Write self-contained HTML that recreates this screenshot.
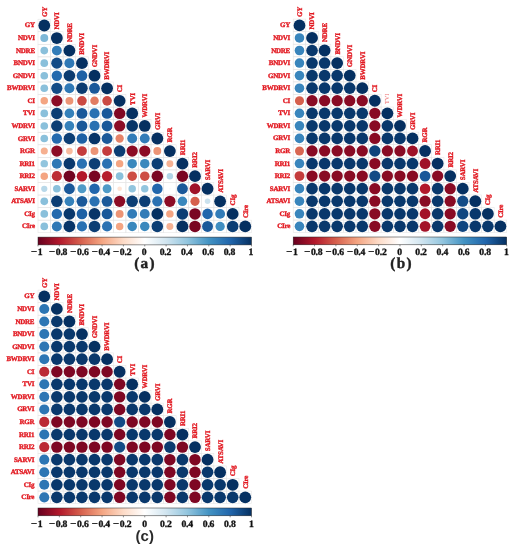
<!DOCTYPE html><html><head><meta charset="utf-8"><title>corr</title><style>html,body{margin:0;padding:0;background:#fff}svg{display:block}text{font-family:"Liberation Serif",serif;font-weight:bold;text-rendering:geometricPrecision}.r{stroke:#e21a22;stroke-width:0.36px}.k{stroke:#111;stroke-width:0.35px}.t{stroke:#222;stroke-width:0.4px}</style></head><body>
<svg width="517" height="550" viewBox="0 0 517 550">
<defs><linearGradient id="cb" x1="0" x2="1" y1="0" y2="0">
<stop offset="0%" stop-color="#67001F"/>
<stop offset="10%" stop-color="#B2182B"/>
<stop offset="20%" stop-color="#D6604D"/>
<stop offset="30%" stop-color="#F4A582"/>
<stop offset="40%" stop-color="#FDDBC7"/>
<stop offset="50%" stop-color="#FFFFFF"/>
<stop offset="60%" stop-color="#D1E5F0"/>
<stop offset="70%" stop-color="#92C5DE"/>
<stop offset="80%" stop-color="#4393C3"/>
<stop offset="90%" stop-color="#2166AC"/>
<stop offset="100%" stop-color="#053061"/>
</linearGradient></defs>
<rect width="517" height="550" fill="#fff"/>
<g><rect x="38.00" y="19.20" width="12.56" height="12.56" fill="none" stroke="#e6e6e6" stroke-width="0.6"/><rect x="38.00" y="31.76" width="12.56" height="12.56" fill="none" stroke="#e6e6e6" stroke-width="0.6"/><rect x="50.56" y="31.76" width="12.56" height="12.56" fill="none" stroke="#e6e6e6" stroke-width="0.6"/><rect x="38.00" y="44.32" width="12.56" height="12.56" fill="none" stroke="#e6e6e6" stroke-width="0.6"/><rect x="50.56" y="44.32" width="12.56" height="12.56" fill="none" stroke="#e6e6e6" stroke-width="0.6"/><rect x="63.12" y="44.32" width="12.56" height="12.56" fill="none" stroke="#e6e6e6" stroke-width="0.6"/><rect x="38.00" y="56.88" width="12.56" height="12.56" fill="none" stroke="#e6e6e6" stroke-width="0.6"/><rect x="50.56" y="56.88" width="12.56" height="12.56" fill="none" stroke="#e6e6e6" stroke-width="0.6"/><rect x="63.12" y="56.88" width="12.56" height="12.56" fill="none" stroke="#e6e6e6" stroke-width="0.6"/><rect x="75.68" y="56.88" width="12.56" height="12.56" fill="none" stroke="#e6e6e6" stroke-width="0.6"/><rect x="38.00" y="69.44" width="12.56" height="12.56" fill="none" stroke="#e6e6e6" stroke-width="0.6"/><rect x="50.56" y="69.44" width="12.56" height="12.56" fill="none" stroke="#e6e6e6" stroke-width="0.6"/><rect x="63.12" y="69.44" width="12.56" height="12.56" fill="none" stroke="#e6e6e6" stroke-width="0.6"/><rect x="75.68" y="69.44" width="12.56" height="12.56" fill="none" stroke="#e6e6e6" stroke-width="0.6"/><rect x="88.24" y="69.44" width="12.56" height="12.56" fill="none" stroke="#e6e6e6" stroke-width="0.6"/><rect x="38.00" y="82.00" width="12.56" height="12.56" fill="none" stroke="#e6e6e6" stroke-width="0.6"/><rect x="50.56" y="82.00" width="12.56" height="12.56" fill="none" stroke="#e6e6e6" stroke-width="0.6"/><rect x="63.12" y="82.00" width="12.56" height="12.56" fill="none" stroke="#e6e6e6" stroke-width="0.6"/><rect x="75.68" y="82.00" width="12.56" height="12.56" fill="none" stroke="#e6e6e6" stroke-width="0.6"/><rect x="88.24" y="82.00" width="12.56" height="12.56" fill="none" stroke="#e6e6e6" stroke-width="0.6"/><rect x="100.80" y="82.00" width="12.56" height="12.56" fill="none" stroke="#e6e6e6" stroke-width="0.6"/><rect x="38.00" y="94.56" width="12.56" height="12.56" fill="none" stroke="#e6e6e6" stroke-width="0.6"/><rect x="50.56" y="94.56" width="12.56" height="12.56" fill="none" stroke="#e6e6e6" stroke-width="0.6"/><rect x="63.12" y="94.56" width="12.56" height="12.56" fill="none" stroke="#e6e6e6" stroke-width="0.6"/><rect x="75.68" y="94.56" width="12.56" height="12.56" fill="none" stroke="#e6e6e6" stroke-width="0.6"/><rect x="88.24" y="94.56" width="12.56" height="12.56" fill="none" stroke="#e6e6e6" stroke-width="0.6"/><rect x="100.80" y="94.56" width="12.56" height="12.56" fill="none" stroke="#e6e6e6" stroke-width="0.6"/><rect x="113.36" y="94.56" width="12.56" height="12.56" fill="none" stroke="#e6e6e6" stroke-width="0.6"/><rect x="38.00" y="107.12" width="12.56" height="12.56" fill="none" stroke="#e6e6e6" stroke-width="0.6"/><rect x="50.56" y="107.12" width="12.56" height="12.56" fill="none" stroke="#e6e6e6" stroke-width="0.6"/><rect x="63.12" y="107.12" width="12.56" height="12.56" fill="none" stroke="#e6e6e6" stroke-width="0.6"/><rect x="75.68" y="107.12" width="12.56" height="12.56" fill="none" stroke="#e6e6e6" stroke-width="0.6"/><rect x="88.24" y="107.12" width="12.56" height="12.56" fill="none" stroke="#e6e6e6" stroke-width="0.6"/><rect x="100.80" y="107.12" width="12.56" height="12.56" fill="none" stroke="#e6e6e6" stroke-width="0.6"/><rect x="113.36" y="107.12" width="12.56" height="12.56" fill="none" stroke="#e6e6e6" stroke-width="0.6"/><rect x="125.92" y="107.12" width="12.56" height="12.56" fill="none" stroke="#e6e6e6" stroke-width="0.6"/><rect x="38.00" y="119.68" width="12.56" height="12.56" fill="none" stroke="#e6e6e6" stroke-width="0.6"/><rect x="50.56" y="119.68" width="12.56" height="12.56" fill="none" stroke="#e6e6e6" stroke-width="0.6"/><rect x="63.12" y="119.68" width="12.56" height="12.56" fill="none" stroke="#e6e6e6" stroke-width="0.6"/><rect x="75.68" y="119.68" width="12.56" height="12.56" fill="none" stroke="#e6e6e6" stroke-width="0.6"/><rect x="88.24" y="119.68" width="12.56" height="12.56" fill="none" stroke="#e6e6e6" stroke-width="0.6"/><rect x="100.80" y="119.68" width="12.56" height="12.56" fill="none" stroke="#e6e6e6" stroke-width="0.6"/><rect x="113.36" y="119.68" width="12.56" height="12.56" fill="none" stroke="#e6e6e6" stroke-width="0.6"/><rect x="125.92" y="119.68" width="12.56" height="12.56" fill="none" stroke="#e6e6e6" stroke-width="0.6"/><rect x="138.48" y="119.68" width="12.56" height="12.56" fill="none" stroke="#e6e6e6" stroke-width="0.6"/><rect x="38.00" y="132.24" width="12.56" height="12.56" fill="none" stroke="#e6e6e6" stroke-width="0.6"/><rect x="50.56" y="132.24" width="12.56" height="12.56" fill="none" stroke="#e6e6e6" stroke-width="0.6"/><rect x="63.12" y="132.24" width="12.56" height="12.56" fill="none" stroke="#e6e6e6" stroke-width="0.6"/><rect x="75.68" y="132.24" width="12.56" height="12.56" fill="none" stroke="#e6e6e6" stroke-width="0.6"/><rect x="88.24" y="132.24" width="12.56" height="12.56" fill="none" stroke="#e6e6e6" stroke-width="0.6"/><rect x="100.80" y="132.24" width="12.56" height="12.56" fill="none" stroke="#e6e6e6" stroke-width="0.6"/><rect x="113.36" y="132.24" width="12.56" height="12.56" fill="none" stroke="#e6e6e6" stroke-width="0.6"/><rect x="125.92" y="132.24" width="12.56" height="12.56" fill="none" stroke="#e6e6e6" stroke-width="0.6"/><rect x="138.48" y="132.24" width="12.56" height="12.56" fill="none" stroke="#e6e6e6" stroke-width="0.6"/><rect x="151.04" y="132.24" width="12.56" height="12.56" fill="none" stroke="#e6e6e6" stroke-width="0.6"/><rect x="38.00" y="144.80" width="12.56" height="12.56" fill="none" stroke="#e6e6e6" stroke-width="0.6"/><rect x="50.56" y="144.80" width="12.56" height="12.56" fill="none" stroke="#e6e6e6" stroke-width="0.6"/><rect x="63.12" y="144.80" width="12.56" height="12.56" fill="none" stroke="#e6e6e6" stroke-width="0.6"/><rect x="75.68" y="144.80" width="12.56" height="12.56" fill="none" stroke="#e6e6e6" stroke-width="0.6"/><rect x="88.24" y="144.80" width="12.56" height="12.56" fill="none" stroke="#e6e6e6" stroke-width="0.6"/><rect x="100.80" y="144.80" width="12.56" height="12.56" fill="none" stroke="#e6e6e6" stroke-width="0.6"/><rect x="113.36" y="144.80" width="12.56" height="12.56" fill="none" stroke="#e6e6e6" stroke-width="0.6"/><rect x="125.92" y="144.80" width="12.56" height="12.56" fill="none" stroke="#e6e6e6" stroke-width="0.6"/><rect x="138.48" y="144.80" width="12.56" height="12.56" fill="none" stroke="#e6e6e6" stroke-width="0.6"/><rect x="151.04" y="144.80" width="12.56" height="12.56" fill="none" stroke="#e6e6e6" stroke-width="0.6"/><rect x="163.60" y="144.80" width="12.56" height="12.56" fill="none" stroke="#e6e6e6" stroke-width="0.6"/><rect x="38.00" y="157.36" width="12.56" height="12.56" fill="none" stroke="#e6e6e6" stroke-width="0.6"/><rect x="50.56" y="157.36" width="12.56" height="12.56" fill="none" stroke="#e6e6e6" stroke-width="0.6"/><rect x="63.12" y="157.36" width="12.56" height="12.56" fill="none" stroke="#e6e6e6" stroke-width="0.6"/><rect x="75.68" y="157.36" width="12.56" height="12.56" fill="none" stroke="#e6e6e6" stroke-width="0.6"/><rect x="88.24" y="157.36" width="12.56" height="12.56" fill="none" stroke="#e6e6e6" stroke-width="0.6"/><rect x="100.80" y="157.36" width="12.56" height="12.56" fill="none" stroke="#e6e6e6" stroke-width="0.6"/><rect x="113.36" y="157.36" width="12.56" height="12.56" fill="none" stroke="#e6e6e6" stroke-width="0.6"/><rect x="125.92" y="157.36" width="12.56" height="12.56" fill="none" stroke="#e6e6e6" stroke-width="0.6"/><rect x="138.48" y="157.36" width="12.56" height="12.56" fill="none" stroke="#e6e6e6" stroke-width="0.6"/><rect x="151.04" y="157.36" width="12.56" height="12.56" fill="none" stroke="#e6e6e6" stroke-width="0.6"/><rect x="163.60" y="157.36" width="12.56" height="12.56" fill="none" stroke="#e6e6e6" stroke-width="0.6"/><rect x="176.16" y="157.36" width="12.56" height="12.56" fill="none" stroke="#e6e6e6" stroke-width="0.6"/><rect x="38.00" y="169.92" width="12.56" height="12.56" fill="none" stroke="#e6e6e6" stroke-width="0.6"/><rect x="50.56" y="169.92" width="12.56" height="12.56" fill="none" stroke="#e6e6e6" stroke-width="0.6"/><rect x="63.12" y="169.92" width="12.56" height="12.56" fill="none" stroke="#e6e6e6" stroke-width="0.6"/><rect x="75.68" y="169.92" width="12.56" height="12.56" fill="none" stroke="#e6e6e6" stroke-width="0.6"/><rect x="88.24" y="169.92" width="12.56" height="12.56" fill="none" stroke="#e6e6e6" stroke-width="0.6"/><rect x="100.80" y="169.92" width="12.56" height="12.56" fill="none" stroke="#e6e6e6" stroke-width="0.6"/><rect x="113.36" y="169.92" width="12.56" height="12.56" fill="none" stroke="#e6e6e6" stroke-width="0.6"/><rect x="125.92" y="169.92" width="12.56" height="12.56" fill="none" stroke="#e6e6e6" stroke-width="0.6"/><rect x="138.48" y="169.92" width="12.56" height="12.56" fill="none" stroke="#e6e6e6" stroke-width="0.6"/><rect x="151.04" y="169.92" width="12.56" height="12.56" fill="none" stroke="#e6e6e6" stroke-width="0.6"/><rect x="163.60" y="169.92" width="12.56" height="12.56" fill="none" stroke="#e6e6e6" stroke-width="0.6"/><rect x="176.16" y="169.92" width="12.56" height="12.56" fill="none" stroke="#e6e6e6" stroke-width="0.6"/><rect x="188.72" y="169.92" width="12.56" height="12.56" fill="none" stroke="#e6e6e6" stroke-width="0.6"/><rect x="38.00" y="182.48" width="12.56" height="12.56" fill="none" stroke="#e6e6e6" stroke-width="0.6"/><rect x="50.56" y="182.48" width="12.56" height="12.56" fill="none" stroke="#e6e6e6" stroke-width="0.6"/><rect x="63.12" y="182.48" width="12.56" height="12.56" fill="none" stroke="#e6e6e6" stroke-width="0.6"/><rect x="75.68" y="182.48" width="12.56" height="12.56" fill="none" stroke="#e6e6e6" stroke-width="0.6"/><rect x="88.24" y="182.48" width="12.56" height="12.56" fill="none" stroke="#e6e6e6" stroke-width="0.6"/><rect x="100.80" y="182.48" width="12.56" height="12.56" fill="none" stroke="#e6e6e6" stroke-width="0.6"/><rect x="113.36" y="182.48" width="12.56" height="12.56" fill="none" stroke="#e6e6e6" stroke-width="0.6"/><rect x="125.92" y="182.48" width="12.56" height="12.56" fill="none" stroke="#e6e6e6" stroke-width="0.6"/><rect x="138.48" y="182.48" width="12.56" height="12.56" fill="none" stroke="#e6e6e6" stroke-width="0.6"/><rect x="151.04" y="182.48" width="12.56" height="12.56" fill="none" stroke="#e6e6e6" stroke-width="0.6"/><rect x="163.60" y="182.48" width="12.56" height="12.56" fill="none" stroke="#e6e6e6" stroke-width="0.6"/><rect x="176.16" y="182.48" width="12.56" height="12.56" fill="none" stroke="#e6e6e6" stroke-width="0.6"/><rect x="188.72" y="182.48" width="12.56" height="12.56" fill="none" stroke="#e6e6e6" stroke-width="0.6"/><rect x="201.28" y="182.48" width="12.56" height="12.56" fill="none" stroke="#e6e6e6" stroke-width="0.6"/><rect x="38.00" y="195.04" width="12.56" height="12.56" fill="none" stroke="#e6e6e6" stroke-width="0.6"/><rect x="50.56" y="195.04" width="12.56" height="12.56" fill="none" stroke="#e6e6e6" stroke-width="0.6"/><rect x="63.12" y="195.04" width="12.56" height="12.56" fill="none" stroke="#e6e6e6" stroke-width="0.6"/><rect x="75.68" y="195.04" width="12.56" height="12.56" fill="none" stroke="#e6e6e6" stroke-width="0.6"/><rect x="88.24" y="195.04" width="12.56" height="12.56" fill="none" stroke="#e6e6e6" stroke-width="0.6"/><rect x="100.80" y="195.04" width="12.56" height="12.56" fill="none" stroke="#e6e6e6" stroke-width="0.6"/><rect x="113.36" y="195.04" width="12.56" height="12.56" fill="none" stroke="#e6e6e6" stroke-width="0.6"/><rect x="125.92" y="195.04" width="12.56" height="12.56" fill="none" stroke="#e6e6e6" stroke-width="0.6"/><rect x="138.48" y="195.04" width="12.56" height="12.56" fill="none" stroke="#e6e6e6" stroke-width="0.6"/><rect x="151.04" y="195.04" width="12.56" height="12.56" fill="none" stroke="#e6e6e6" stroke-width="0.6"/><rect x="163.60" y="195.04" width="12.56" height="12.56" fill="none" stroke="#e6e6e6" stroke-width="0.6"/><rect x="176.16" y="195.04" width="12.56" height="12.56" fill="none" stroke="#e6e6e6" stroke-width="0.6"/><rect x="188.72" y="195.04" width="12.56" height="12.56" fill="none" stroke="#e6e6e6" stroke-width="0.6"/><rect x="201.28" y="195.04" width="12.56" height="12.56" fill="none" stroke="#e6e6e6" stroke-width="0.6"/><rect x="213.84" y="195.04" width="12.56" height="12.56" fill="none" stroke="#e6e6e6" stroke-width="0.6"/><rect x="38.00" y="207.60" width="12.56" height="12.56" fill="none" stroke="#e6e6e6" stroke-width="0.6"/><rect x="50.56" y="207.60" width="12.56" height="12.56" fill="none" stroke="#e6e6e6" stroke-width="0.6"/><rect x="63.12" y="207.60" width="12.56" height="12.56" fill="none" stroke="#e6e6e6" stroke-width="0.6"/><rect x="75.68" y="207.60" width="12.56" height="12.56" fill="none" stroke="#e6e6e6" stroke-width="0.6"/><rect x="88.24" y="207.60" width="12.56" height="12.56" fill="none" stroke="#e6e6e6" stroke-width="0.6"/><rect x="100.80" y="207.60" width="12.56" height="12.56" fill="none" stroke="#e6e6e6" stroke-width="0.6"/><rect x="113.36" y="207.60" width="12.56" height="12.56" fill="none" stroke="#e6e6e6" stroke-width="0.6"/><rect x="125.92" y="207.60" width="12.56" height="12.56" fill="none" stroke="#e6e6e6" stroke-width="0.6"/><rect x="138.48" y="207.60" width="12.56" height="12.56" fill="none" stroke="#e6e6e6" stroke-width="0.6"/><rect x="151.04" y="207.60" width="12.56" height="12.56" fill="none" stroke="#e6e6e6" stroke-width="0.6"/><rect x="163.60" y="207.60" width="12.56" height="12.56" fill="none" stroke="#e6e6e6" stroke-width="0.6"/><rect x="176.16" y="207.60" width="12.56" height="12.56" fill="none" stroke="#e6e6e6" stroke-width="0.6"/><rect x="188.72" y="207.60" width="12.56" height="12.56" fill="none" stroke="#e6e6e6" stroke-width="0.6"/><rect x="201.28" y="207.60" width="12.56" height="12.56" fill="none" stroke="#e6e6e6" stroke-width="0.6"/><rect x="213.84" y="207.60" width="12.56" height="12.56" fill="none" stroke="#e6e6e6" stroke-width="0.6"/><rect x="226.40" y="207.60" width="12.56" height="12.56" fill="none" stroke="#e6e6e6" stroke-width="0.6"/><rect x="38.00" y="220.16" width="12.56" height="12.56" fill="none" stroke="#e6e6e6" stroke-width="0.6"/><rect x="50.56" y="220.16" width="12.56" height="12.56" fill="none" stroke="#e6e6e6" stroke-width="0.6"/><rect x="63.12" y="220.16" width="12.56" height="12.56" fill="none" stroke="#e6e6e6" stroke-width="0.6"/><rect x="75.68" y="220.16" width="12.56" height="12.56" fill="none" stroke="#e6e6e6" stroke-width="0.6"/><rect x="88.24" y="220.16" width="12.56" height="12.56" fill="none" stroke="#e6e6e6" stroke-width="0.6"/><rect x="100.80" y="220.16" width="12.56" height="12.56" fill="none" stroke="#e6e6e6" stroke-width="0.6"/><rect x="113.36" y="220.16" width="12.56" height="12.56" fill="none" stroke="#e6e6e6" stroke-width="0.6"/><rect x="125.92" y="220.16" width="12.56" height="12.56" fill="none" stroke="#e6e6e6" stroke-width="0.6"/><rect x="138.48" y="220.16" width="12.56" height="12.56" fill="none" stroke="#e6e6e6" stroke-width="0.6"/><rect x="151.04" y="220.16" width="12.56" height="12.56" fill="none" stroke="#e6e6e6" stroke-width="0.6"/><rect x="163.60" y="220.16" width="12.56" height="12.56" fill="none" stroke="#e6e6e6" stroke-width="0.6"/><rect x="176.16" y="220.16" width="12.56" height="12.56" fill="none" stroke="#e6e6e6" stroke-width="0.6"/><rect x="188.72" y="220.16" width="12.56" height="12.56" fill="none" stroke="#e6e6e6" stroke-width="0.6"/><rect x="201.28" y="220.16" width="12.56" height="12.56" fill="none" stroke="#e6e6e6" stroke-width="0.6"/><rect x="213.84" y="220.16" width="12.56" height="12.56" fill="none" stroke="#e6e6e6" stroke-width="0.6"/><rect x="226.40" y="220.16" width="12.56" height="12.56" fill="none" stroke="#e6e6e6" stroke-width="0.6"/><rect x="238.96" y="220.16" width="12.56" height="12.56" fill="none" stroke="#e6e6e6" stroke-width="0.6"/><circle cx="44.28" cy="25.48" r="5.90" fill="#053061"/><circle cx="44.28" cy="38.04" r="3.96" fill="#7eb8d7"/><circle cx="56.84" cy="38.04" r="5.90" fill="#053061"/><circle cx="44.28" cy="50.60" r="3.83" fill="#8ac0db"/><circle cx="56.84" cy="50.60" r="4.94" fill="#327cb8"/><circle cx="69.40" cy="50.60" r="5.90" fill="#053061"/><circle cx="44.28" cy="63.16" r="3.83" fill="#8ac0db"/><circle cx="56.84" cy="63.16" r="5.60" fill="#134b86"/><circle cx="69.40" cy="63.16" r="5.01" fill="#2f78b5"/><circle cx="81.96" cy="63.16" r="5.90" fill="#053061"/><circle cx="44.28" cy="75.72" r="3.83" fill="#8ac0db"/><circle cx="56.84" cy="75.72" r="5.21" fill="#246aae"/><circle cx="69.40" cy="75.72" r="5.78" fill="#0b3b70"/><circle cx="81.96" cy="75.72" r="5.35" fill="#1e61a5"/><circle cx="94.52" cy="75.72" r="5.90" fill="#053061"/><circle cx="44.28" cy="88.28" r="3.83" fill="#8ac0db"/><circle cx="56.84" cy="88.28" r="5.60" fill="#134b86"/><circle cx="69.40" cy="88.28" r="5.01" fill="#2f78b5"/><circle cx="81.96" cy="88.28" r="5.78" fill="#0b3b70"/><circle cx="94.52" cy="88.28" r="5.44" fill="#1a5899"/><circle cx="107.08" cy="88.28" r="5.90" fill="#053061"/><circle cx="44.28" cy="100.84" r="3.73" fill="#f4a582"/><circle cx="56.84" cy="100.84" r="5.60" fill="#8c0c25"/><circle cx="69.40" cy="100.84" r="3.96" fill="#ec9475"/><circle cx="81.96" cy="100.84" r="4.80" fill="#cb4a43"/><circle cx="94.52" cy="100.84" r="4.26" fill="#e27c62"/><circle cx="107.08" cy="100.84" r="4.80" fill="#cb4a43"/><circle cx="119.64" cy="100.84" r="5.90" fill="#053061"/><circle cx="44.28" cy="113.40" r="3.83" fill="#8ac0db"/><circle cx="56.84" cy="113.40" r="5.75" fill="#0c3e74"/><circle cx="69.40" cy="113.40" r="4.87" fill="#3581ba"/><circle cx="81.96" cy="113.40" r="5.44" fill="#1a5899"/><circle cx="94.52" cy="113.40" r="5.11" fill="#2a71b2"/><circle cx="107.08" cy="113.40" r="5.44" fill="#1a5899"/><circle cx="119.64" cy="113.40" r="5.69" fill="#810823"/><circle cx="132.20" cy="113.40" r="5.90" fill="#053061"/><circle cx="44.28" cy="125.96" r="3.83" fill="#8ac0db"/><circle cx="56.84" cy="125.96" r="5.75" fill="#0c3e74"/><circle cx="69.40" cy="125.96" r="4.87" fill="#3581ba"/><circle cx="81.96" cy="125.96" r="5.44" fill="#1a5899"/><circle cx="94.52" cy="125.96" r="5.11" fill="#2a71b2"/><circle cx="107.08" cy="125.96" r="5.44" fill="#1a5899"/><circle cx="119.64" cy="125.96" r="5.60" fill="#8c0c25"/><circle cx="132.20" cy="125.96" r="5.84" fill="#083568"/><circle cx="144.76" cy="125.96" r="5.90" fill="#053061"/><circle cx="44.28" cy="138.52" r="3.83" fill="#8ac0db"/><circle cx="56.84" cy="138.52" r="5.21" fill="#246aae"/><circle cx="69.40" cy="138.52" r="5.75" fill="#0c3e74"/><circle cx="81.96" cy="138.52" r="5.35" fill="#1e61a5"/><circle cx="94.52" cy="138.52" r="5.84" fill="#083568"/><circle cx="107.08" cy="138.52" r="5.44" fill="#1a5899"/><circle cx="119.64" cy="138.52" r="4.17" fill="#e58268"/><circle cx="132.20" cy="138.52" r="4.94" fill="#327cb8"/><circle cx="144.76" cy="138.52" r="4.94" fill="#327cb8"/><circle cx="157.32" cy="138.52" r="5.90" fill="#053061"/><circle cx="44.28" cy="151.08" r="3.54" fill="#f6b090"/><circle cx="56.84" cy="151.08" r="5.60" fill="#8c0c25"/><circle cx="69.40" cy="151.08" r="3.34" fill="#f8bb9e"/><circle cx="81.96" cy="151.08" r="4.94" fill="#c43c3c"/><circle cx="94.52" cy="151.08" r="3.96" fill="#ec9475"/><circle cx="107.08" cy="151.08" r="4.94" fill="#c43c3c"/><circle cx="119.64" cy="151.08" r="5.75" fill="#0c3e74"/><circle cx="132.20" cy="151.08" r="5.60" fill="#8c0c25"/><circle cx="144.76" cy="151.08" r="5.60" fill="#8c0c25"/><circle cx="157.32" cy="151.08" r="3.96" fill="#ec9475"/><circle cx="169.88" cy="151.08" r="5.90" fill="#053061"/><circle cx="44.28" cy="163.64" r="3.73" fill="#92c5de"/><circle cx="56.84" cy="163.64" r="5.01" fill="#2f78b5"/><circle cx="69.40" cy="163.64" r="5.81" fill="#09386c"/><circle cx="81.96" cy="163.64" r="5.11" fill="#2a71b2"/><circle cx="94.52" cy="163.64" r="5.75" fill="#0c3e74"/><circle cx="107.08" cy="163.64" r="5.11" fill="#2a71b2"/><circle cx="119.64" cy="163.64" r="3.73" fill="#f4a582"/><circle cx="132.20" cy="163.64" r="4.76" fill="#3a88bd"/><circle cx="144.76" cy="163.64" r="4.76" fill="#3a88bd"/><circle cx="157.32" cy="163.64" r="5.75" fill="#0c3e74"/><circle cx="169.88" cy="163.64" r="3.49" fill="#f6b293"/><circle cx="182.44" cy="163.64" r="5.90" fill="#053061"/><circle cx="44.28" cy="176.20" r="3.73" fill="#f4a582"/><circle cx="56.84" cy="176.20" r="5.08" fill="#bd2e35"/><circle cx="69.40" cy="176.20" r="5.81" fill="#720421"/><circle cx="81.96" cy="176.20" r="5.28" fill="#b2182b"/><circle cx="94.52" cy="176.20" r="5.75" fill="#7a0622"/><circle cx="107.08" cy="176.20" r="5.21" fill="#b61f2e"/><circle cx="119.64" cy="176.20" r="3.83" fill="#8ac0db"/><circle cx="132.20" cy="176.20" r="4.76" fill="#cd4e44"/><circle cx="144.76" cy="176.20" r="4.76" fill="#cd4e44"/><circle cx="157.32" cy="176.20" r="5.75" fill="#7a0622"/><circle cx="169.88" cy="176.20" r="3.23" fill="#b2d5e7"/><circle cx="182.44" cy="176.20" r="5.75" fill="#7a0622"/><circle cx="195.00" cy="176.20" r="5.90" fill="#053061"/><circle cx="44.28" cy="188.76" r="3.12" fill="#b8d8e9"/><circle cx="56.84" cy="188.76" r="3.83" fill="#8ac0db"/><circle cx="69.40" cy="188.76" r="5.44" fill="#1a5899"/><circle cx="81.96" cy="188.76" r="4.46" fill="#4f9ac7"/><circle cx="94.52" cy="188.76" r="5.28" fill="#2166ac"/><circle cx="107.08" cy="188.76" r="4.46" fill="#4f9ac7"/><circle cx="119.64" cy="188.76" r="2.29" fill="#fee4d5"/><circle cx="132.20" cy="188.76" r="3.73" fill="#92c5de"/><circle cx="144.76" cy="188.76" r="3.73" fill="#92c5de"/><circle cx="157.32" cy="188.76" r="5.28" fill="#2166ac"/><circle cx="169.88" cy="188.76" r="1.02" fill="#f8fbfd"/><circle cx="182.44" cy="188.76" r="5.44" fill="#1a5899"/><circle cx="195.00" cy="188.76" r="5.44" fill="#9f1228"/><circle cx="207.56" cy="188.76" r="5.90" fill="#053061"/><circle cx="44.28" cy="201.32" r="3.83" fill="#8ac0db"/><circle cx="56.84" cy="201.32" r="5.75" fill="#0c3e74"/><circle cx="69.40" cy="201.32" r="4.87" fill="#3581ba"/><circle cx="81.96" cy="201.32" r="5.44" fill="#1a5899"/><circle cx="94.52" cy="201.32" r="5.11" fill="#2a71b2"/><circle cx="107.08" cy="201.32" r="5.44" fill="#1a5899"/><circle cx="119.64" cy="201.32" r="5.60" fill="#8c0c25"/><circle cx="132.20" cy="201.32" r="5.75" fill="#0c3e74"/><circle cx="144.76" cy="201.32" r="5.75" fill="#0c3e74"/><circle cx="157.32" cy="201.32" r="5.11" fill="#2a71b2"/><circle cx="169.88" cy="201.32" r="5.60" fill="#8c0c25"/><circle cx="182.44" cy="201.32" r="4.76" fill="#3a88bd"/><circle cx="195.00" cy="201.32" r="4.57" fill="#d6604d"/><circle cx="207.56" cy="201.32" r="2.77" fill="#cbe2ee"/><circle cx="220.12" cy="201.32" r="5.90" fill="#053061"/><circle cx="44.28" cy="213.88" r="3.83" fill="#8ac0db"/><circle cx="56.84" cy="213.88" r="5.21" fill="#246aae"/><circle cx="69.40" cy="213.88" r="5.81" fill="#09386c"/><circle cx="81.96" cy="213.88" r="5.35" fill="#1e61a5"/><circle cx="94.52" cy="213.88" r="5.84" fill="#083568"/><circle cx="107.08" cy="213.88" r="5.44" fill="#1a5899"/><circle cx="119.64" cy="213.88" r="3.96" fill="#ec9475"/><circle cx="132.20" cy="213.88" r="4.94" fill="#327cb8"/><circle cx="144.76" cy="213.88" r="4.94" fill="#327cb8"/><circle cx="157.32" cy="213.88" r="5.90" fill="#053061"/><circle cx="169.88" cy="213.88" r="3.73" fill="#f4a582"/><circle cx="182.44" cy="213.88" r="5.75" fill="#0c3e74"/><circle cx="195.00" cy="213.88" r="5.75" fill="#7a0622"/><circle cx="207.56" cy="213.88" r="5.28" fill="#2166ac"/><circle cx="220.12" cy="213.88" r="4.94" fill="#327cb8"/><circle cx="232.68" cy="213.88" r="5.90" fill="#053061"/><circle cx="44.28" cy="226.44" r="3.83" fill="#8ac0db"/><circle cx="56.84" cy="226.44" r="5.01" fill="#2f78b5"/><circle cx="69.40" cy="226.44" r="5.84" fill="#083568"/><circle cx="81.96" cy="226.44" r="5.11" fill="#2a71b2"/><circle cx="94.52" cy="226.44" r="5.75" fill="#0c3e74"/><circle cx="107.08" cy="226.44" r="5.11" fill="#2a71b2"/><circle cx="119.64" cy="226.44" r="3.73" fill="#f4a582"/><circle cx="132.20" cy="226.44" r="4.76" fill="#3a88bd"/><circle cx="144.76" cy="226.44" r="4.76" fill="#3a88bd"/><circle cx="157.32" cy="226.44" r="5.75" fill="#0c3e74"/><circle cx="169.88" cy="226.44" r="3.49" fill="#f6b293"/><circle cx="182.44" cy="226.44" r="5.90" fill="#053061"/><circle cx="195.00" cy="226.44" r="5.75" fill="#7a0622"/><circle cx="207.56" cy="226.44" r="5.44" fill="#1a5899"/><circle cx="220.12" cy="226.44" r="4.65" fill="#408ec1"/><circle cx="232.68" cy="226.44" r="5.75" fill="#0c3e74"/><circle cx="245.24" cy="226.44" r="5.90" fill="#053061"/><text class="r" transform="translate(34.80 27.48) scale(1.015 1)" font-size="6.9" text-anchor="end" fill="#e21a22" letter-spacing="-0.25">GY</text><text class="r" transform="translate(34.80 40.04) scale(1.015 1)" font-size="6.9" text-anchor="end" fill="#e21a22" letter-spacing="-0.25">NDVI</text><text class="r" transform="translate(34.80 52.60) scale(1.015 1)" font-size="6.9" text-anchor="end" fill="#e21a22" letter-spacing="-0.25">NDRE</text><text class="r" transform="translate(34.80 65.16) scale(1.015 1)" font-size="6.9" text-anchor="end" fill="#e21a22" letter-spacing="-0.25">BNDVI</text><text class="r" transform="translate(34.80 77.72) scale(1.015 1)" font-size="6.9" text-anchor="end" fill="#e21a22" letter-spacing="-0.25">GNDVI</text><text class="r" transform="translate(34.80 90.28) scale(1.015 1)" font-size="6.9" text-anchor="end" fill="#e21a22" letter-spacing="-0.25">BWDRVI</text><text class="r" transform="translate(34.80 102.84) scale(1.015 1)" font-size="6.9" text-anchor="end" fill="#e21a22" letter-spacing="-0.25">CI</text><text class="r" transform="translate(34.80 115.40) scale(1.015 1)" font-size="6.9" text-anchor="end" fill="#e21a22" letter-spacing="-0.25">TVI</text><text class="r" transform="translate(34.80 127.96) scale(1.015 1)" font-size="6.9" text-anchor="end" fill="#e21a22" letter-spacing="-0.25">WDRVI</text><text class="r" transform="translate(34.80 140.52) scale(1.015 1)" font-size="6.9" text-anchor="end" fill="#e21a22" letter-spacing="-0.25">GRVI</text><text class="r" transform="translate(34.80 153.08) scale(1.015 1)" font-size="6.9" text-anchor="end" fill="#e21a22" letter-spacing="-0.25">RGR</text><text class="r" transform="translate(34.80 165.64) scale(1.015 1)" font-size="6.9" text-anchor="end" fill="#e21a22" letter-spacing="-0.25">RRI1</text><text class="r" transform="translate(34.80 178.20) scale(1.015 1)" font-size="6.9" text-anchor="end" fill="#e21a22" letter-spacing="-0.25">RRI2</text><text class="r" transform="translate(34.80 190.76) scale(1.015 1)" font-size="6.9" text-anchor="end" fill="#e21a22" letter-spacing="-0.25">SARVI</text><text class="r" transform="translate(34.80 203.32) scale(1.015 1)" font-size="6.9" text-anchor="end" fill="#e21a22" letter-spacing="-0.25">ATSAVI</text><text class="r" transform="translate(34.80 215.88) scale(1.015 1)" font-size="6.9" text-anchor="end" fill="#e21a22" letter-spacing="-0.25">CIg</text><text class="r" transform="translate(34.80 228.44) scale(1.015 1)" font-size="6.9" text-anchor="end" fill="#e21a22" letter-spacing="-0.25">CIre</text><text class="r" transform="translate(46.68 17.00) rotate(-90) scale(1.02 1)" font-size="6.9" fill="#e21a22" letter-spacing="-0.25">GY</text><text class="r" transform="translate(59.24 29.56) rotate(-90) scale(1.02 1)" font-size="6.9" fill="#e21a22" letter-spacing="-0.25">NDVI</text><text class="r" transform="translate(71.80 42.12) rotate(-90) scale(1.02 1)" font-size="6.9" fill="#e21a22" letter-spacing="-0.25">NDRE</text><text class="r" transform="translate(84.36 54.68) rotate(-90) scale(1.02 1)" font-size="6.9" fill="#e21a22" letter-spacing="-0.25">BNDVI</text><text class="r" transform="translate(96.92 67.24) rotate(-90) scale(1.02 1)" font-size="6.9" fill="#e21a22" letter-spacing="-0.25">GNDVI</text><text class="r" transform="translate(109.48 79.80) rotate(-90) scale(1.02 1)" font-size="6.9" fill="#e21a22" letter-spacing="-0.25">BWDRVI</text><text class="r" transform="translate(122.04 92.36) rotate(-90) scale(1.02 1)" font-size="6.9" fill="#e21a22" letter-spacing="-0.25">CI</text><text class="r" transform="translate(134.60 104.92) rotate(-90) scale(1.02 1)" font-size="6.9" fill="#e21a22" letter-spacing="-0.25">TVI</text><text class="r" transform="translate(147.16 117.48) rotate(-90) scale(1.02 1)" font-size="6.9" fill="#e21a22" letter-spacing="-0.25">WDRVI</text><text class="r" transform="translate(159.72 130.04) rotate(-90) scale(1.02 1)" font-size="6.9" fill="#e21a22" letter-spacing="-0.25">GRVI</text><text class="r" transform="translate(172.28 142.60) rotate(-90) scale(1.02 1)" font-size="6.9" fill="#e21a22" letter-spacing="-0.25">RGR</text><text class="r" transform="translate(184.84 155.16) rotate(-90) scale(1.02 1)" font-size="6.9" fill="#e21a22" letter-spacing="-0.25">RRI1</text><text class="r" transform="translate(197.40 167.72) rotate(-90) scale(1.02 1)" font-size="6.9" fill="#e21a22" letter-spacing="-0.25">RRI2</text><text class="r" transform="translate(209.96 180.28) rotate(-90) scale(1.02 1)" font-size="6.9" fill="#e21a22" letter-spacing="-0.25">SARVI</text><text class="r" transform="translate(222.52 192.84) rotate(-90) scale(1.02 1)" font-size="6.9" fill="#e21a22" letter-spacing="-0.25">ATSAVI</text><text class="r" transform="translate(235.08 205.40) rotate(-90) scale(1.02 1)" font-size="6.9" fill="#e21a22" letter-spacing="-0.25">CIg</text><text class="r" transform="translate(247.64 217.96) rotate(-90) scale(1.02 1)" font-size="6.9" fill="#e21a22" letter-spacing="-0.25">CIre</text><rect x="38.00" y="237.10" width="213.52" height="7.8" fill="url(#cb)" stroke="#222" stroke-width="0.5"/><line x1="38.00" x2="38.00" y1="244.90" y2="246.40" stroke="#222" stroke-width="0.5"/><text class="k" x="36.80" y="255.00" font-size="9.7" letter-spacing="-0.2" text-anchor="middle" fill="#111"><tspan font-size="10.6">−</tspan><tspan dx="0.9">1</tspan></text><line x1="59.35" x2="59.35" y1="244.90" y2="246.40" stroke="#222" stroke-width="0.5"/><text class="k" x="58.15" y="255.00" font-size="9.7" letter-spacing="-0.2" text-anchor="middle" fill="#111"><tspan font-size="10.6">−</tspan><tspan dx="0.9">0.8</tspan></text><line x1="80.70" x2="80.70" y1="244.90" y2="246.40" stroke="#222" stroke-width="0.5"/><text class="k" x="79.50" y="255.00" font-size="9.7" letter-spacing="-0.2" text-anchor="middle" fill="#111"><tspan font-size="10.6">−</tspan><tspan dx="0.9">0.6</tspan></text><line x1="102.06" x2="102.06" y1="244.90" y2="246.40" stroke="#222" stroke-width="0.5"/><text class="k" x="100.86" y="255.00" font-size="9.7" letter-spacing="-0.2" text-anchor="middle" fill="#111"><tspan font-size="10.6">−</tspan><tspan dx="0.9">0.4</tspan></text><line x1="123.41" x2="123.41" y1="244.90" y2="246.40" stroke="#222" stroke-width="0.5"/><text class="k" x="122.21" y="255.00" font-size="9.7" letter-spacing="-0.2" text-anchor="middle" fill="#111"><tspan font-size="10.6">−</tspan><tspan dx="0.9">0.2</tspan></text><line x1="144.76" x2="144.76" y1="244.90" y2="246.40" stroke="#222" stroke-width="0.5"/><text class="k" x="144.06" y="255.00" font-size="9.7" letter-spacing="-0.2" text-anchor="middle" fill="#111">0</text><line x1="166.11" x2="166.11" y1="244.90" y2="246.40" stroke="#222" stroke-width="0.5"/><text class="k" x="165.41" y="255.00" font-size="9.7" letter-spacing="-0.2" text-anchor="middle" fill="#111">0.2</text><line x1="187.46" x2="187.46" y1="244.90" y2="246.40" stroke="#222" stroke-width="0.5"/><text class="k" x="186.76" y="255.00" font-size="9.7" letter-spacing="-0.2" text-anchor="middle" fill="#111">0.4</text><line x1="208.82" x2="208.82" y1="244.90" y2="246.40" stroke="#222" stroke-width="0.5"/><text class="k" x="208.12" y="255.00" font-size="9.7" letter-spacing="-0.2" text-anchor="middle" fill="#111">0.6</text><line x1="230.17" x2="230.17" y1="244.90" y2="246.40" stroke="#222" stroke-width="0.5"/><text class="k" x="229.47" y="255.00" font-size="9.7" letter-spacing="-0.2" text-anchor="middle" fill="#111">0.8</text><line x1="251.52" x2="251.52" y1="244.90" y2="246.40" stroke="#222" stroke-width="0.5"/><text class="k" x="250.82" y="255.00" font-size="9.7" letter-spacing="-0.2" text-anchor="middle" fill="#111">1</text><text class="t" x="145.06" y="268.30" font-size="15.2" text-anchor="middle" fill="#222" letter-spacing="1.3">(a)</text></g>
<g><rect x="293.20" y="19.10" width="12.56" height="12.56" fill="none" stroke="#e6e6e6" stroke-width="0.6"/><rect x="293.20" y="31.66" width="12.56" height="12.56" fill="none" stroke="#e6e6e6" stroke-width="0.6"/><rect x="305.76" y="31.66" width="12.56" height="12.56" fill="none" stroke="#e6e6e6" stroke-width="0.6"/><rect x="293.20" y="44.22" width="12.56" height="12.56" fill="none" stroke="#e6e6e6" stroke-width="0.6"/><rect x="305.76" y="44.22" width="12.56" height="12.56" fill="none" stroke="#e6e6e6" stroke-width="0.6"/><rect x="318.32" y="44.22" width="12.56" height="12.56" fill="none" stroke="#e6e6e6" stroke-width="0.6"/><rect x="293.20" y="56.78" width="12.56" height="12.56" fill="none" stroke="#e6e6e6" stroke-width="0.6"/><rect x="305.76" y="56.78" width="12.56" height="12.56" fill="none" stroke="#e6e6e6" stroke-width="0.6"/><rect x="318.32" y="56.78" width="12.56" height="12.56" fill="none" stroke="#e6e6e6" stroke-width="0.6"/><rect x="330.88" y="56.78" width="12.56" height="12.56" fill="none" stroke="#e6e6e6" stroke-width="0.6"/><rect x="293.20" y="69.34" width="12.56" height="12.56" fill="none" stroke="#e6e6e6" stroke-width="0.6"/><rect x="305.76" y="69.34" width="12.56" height="12.56" fill="none" stroke="#e6e6e6" stroke-width="0.6"/><rect x="318.32" y="69.34" width="12.56" height="12.56" fill="none" stroke="#e6e6e6" stroke-width="0.6"/><rect x="330.88" y="69.34" width="12.56" height="12.56" fill="none" stroke="#e6e6e6" stroke-width="0.6"/><rect x="343.44" y="69.34" width="12.56" height="12.56" fill="none" stroke="#e6e6e6" stroke-width="0.6"/><rect x="293.20" y="81.90" width="12.56" height="12.56" fill="none" stroke="#e6e6e6" stroke-width="0.6"/><rect x="305.76" y="81.90" width="12.56" height="12.56" fill="none" stroke="#e6e6e6" stroke-width="0.6"/><rect x="318.32" y="81.90" width="12.56" height="12.56" fill="none" stroke="#e6e6e6" stroke-width="0.6"/><rect x="330.88" y="81.90" width="12.56" height="12.56" fill="none" stroke="#e6e6e6" stroke-width="0.6"/><rect x="343.44" y="81.90" width="12.56" height="12.56" fill="none" stroke="#e6e6e6" stroke-width="0.6"/><rect x="356.00" y="81.90" width="12.56" height="12.56" fill="none" stroke="#e6e6e6" stroke-width="0.6"/><rect x="293.20" y="94.46" width="12.56" height="12.56" fill="none" stroke="#e6e6e6" stroke-width="0.6"/><rect x="305.76" y="94.46" width="12.56" height="12.56" fill="none" stroke="#e6e6e6" stroke-width="0.6"/><rect x="318.32" y="94.46" width="12.56" height="12.56" fill="none" stroke="#e6e6e6" stroke-width="0.6"/><rect x="330.88" y="94.46" width="12.56" height="12.56" fill="none" stroke="#e6e6e6" stroke-width="0.6"/><rect x="343.44" y="94.46" width="12.56" height="12.56" fill="none" stroke="#e6e6e6" stroke-width="0.6"/><rect x="356.00" y="94.46" width="12.56" height="12.56" fill="none" stroke="#e6e6e6" stroke-width="0.6"/><rect x="368.56" y="94.46" width="12.56" height="12.56" fill="none" stroke="#e6e6e6" stroke-width="0.6"/><rect x="293.20" y="107.02" width="12.56" height="12.56" fill="none" stroke="#e6e6e6" stroke-width="0.6"/><rect x="305.76" y="107.02" width="12.56" height="12.56" fill="none" stroke="#e6e6e6" stroke-width="0.6"/><rect x="318.32" y="107.02" width="12.56" height="12.56" fill="none" stroke="#e6e6e6" stroke-width="0.6"/><rect x="330.88" y="107.02" width="12.56" height="12.56" fill="none" stroke="#e6e6e6" stroke-width="0.6"/><rect x="343.44" y="107.02" width="12.56" height="12.56" fill="none" stroke="#e6e6e6" stroke-width="0.6"/><rect x="356.00" y="107.02" width="12.56" height="12.56" fill="none" stroke="#e6e6e6" stroke-width="0.6"/><rect x="368.56" y="107.02" width="12.56" height="12.56" fill="none" stroke="#e6e6e6" stroke-width="0.6"/><rect x="381.12" y="107.02" width="12.56" height="12.56" fill="none" stroke="#e6e6e6" stroke-width="0.6"/><rect x="293.20" y="119.58" width="12.56" height="12.56" fill="none" stroke="#e6e6e6" stroke-width="0.6"/><rect x="305.76" y="119.58" width="12.56" height="12.56" fill="none" stroke="#e6e6e6" stroke-width="0.6"/><rect x="318.32" y="119.58" width="12.56" height="12.56" fill="none" stroke="#e6e6e6" stroke-width="0.6"/><rect x="330.88" y="119.58" width="12.56" height="12.56" fill="none" stroke="#e6e6e6" stroke-width="0.6"/><rect x="343.44" y="119.58" width="12.56" height="12.56" fill="none" stroke="#e6e6e6" stroke-width="0.6"/><rect x="356.00" y="119.58" width="12.56" height="12.56" fill="none" stroke="#e6e6e6" stroke-width="0.6"/><rect x="368.56" y="119.58" width="12.56" height="12.56" fill="none" stroke="#e6e6e6" stroke-width="0.6"/><rect x="381.12" y="119.58" width="12.56" height="12.56" fill="none" stroke="#e6e6e6" stroke-width="0.6"/><rect x="393.68" y="119.58" width="12.56" height="12.56" fill="none" stroke="#e6e6e6" stroke-width="0.6"/><rect x="293.20" y="132.14" width="12.56" height="12.56" fill="none" stroke="#e6e6e6" stroke-width="0.6"/><rect x="305.76" y="132.14" width="12.56" height="12.56" fill="none" stroke="#e6e6e6" stroke-width="0.6"/><rect x="318.32" y="132.14" width="12.56" height="12.56" fill="none" stroke="#e6e6e6" stroke-width="0.6"/><rect x="330.88" y="132.14" width="12.56" height="12.56" fill="none" stroke="#e6e6e6" stroke-width="0.6"/><rect x="343.44" y="132.14" width="12.56" height="12.56" fill="none" stroke="#e6e6e6" stroke-width="0.6"/><rect x="356.00" y="132.14" width="12.56" height="12.56" fill="none" stroke="#e6e6e6" stroke-width="0.6"/><rect x="368.56" y="132.14" width="12.56" height="12.56" fill="none" stroke="#e6e6e6" stroke-width="0.6"/><rect x="381.12" y="132.14" width="12.56" height="12.56" fill="none" stroke="#e6e6e6" stroke-width="0.6"/><rect x="393.68" y="132.14" width="12.56" height="12.56" fill="none" stroke="#e6e6e6" stroke-width="0.6"/><rect x="406.24" y="132.14" width="12.56" height="12.56" fill="none" stroke="#e6e6e6" stroke-width="0.6"/><rect x="293.20" y="144.70" width="12.56" height="12.56" fill="none" stroke="#e6e6e6" stroke-width="0.6"/><rect x="305.76" y="144.70" width="12.56" height="12.56" fill="none" stroke="#e6e6e6" stroke-width="0.6"/><rect x="318.32" y="144.70" width="12.56" height="12.56" fill="none" stroke="#e6e6e6" stroke-width="0.6"/><rect x="330.88" y="144.70" width="12.56" height="12.56" fill="none" stroke="#e6e6e6" stroke-width="0.6"/><rect x="343.44" y="144.70" width="12.56" height="12.56" fill="none" stroke="#e6e6e6" stroke-width="0.6"/><rect x="356.00" y="144.70" width="12.56" height="12.56" fill="none" stroke="#e6e6e6" stroke-width="0.6"/><rect x="368.56" y="144.70" width="12.56" height="12.56" fill="none" stroke="#e6e6e6" stroke-width="0.6"/><rect x="381.12" y="144.70" width="12.56" height="12.56" fill="none" stroke="#e6e6e6" stroke-width="0.6"/><rect x="393.68" y="144.70" width="12.56" height="12.56" fill="none" stroke="#e6e6e6" stroke-width="0.6"/><rect x="406.24" y="144.70" width="12.56" height="12.56" fill="none" stroke="#e6e6e6" stroke-width="0.6"/><rect x="418.80" y="144.70" width="12.56" height="12.56" fill="none" stroke="#e6e6e6" stroke-width="0.6"/><rect x="293.20" y="157.26" width="12.56" height="12.56" fill="none" stroke="#e6e6e6" stroke-width="0.6"/><rect x="305.76" y="157.26" width="12.56" height="12.56" fill="none" stroke="#e6e6e6" stroke-width="0.6"/><rect x="318.32" y="157.26" width="12.56" height="12.56" fill="none" stroke="#e6e6e6" stroke-width="0.6"/><rect x="330.88" y="157.26" width="12.56" height="12.56" fill="none" stroke="#e6e6e6" stroke-width="0.6"/><rect x="343.44" y="157.26" width="12.56" height="12.56" fill="none" stroke="#e6e6e6" stroke-width="0.6"/><rect x="356.00" y="157.26" width="12.56" height="12.56" fill="none" stroke="#e6e6e6" stroke-width="0.6"/><rect x="368.56" y="157.26" width="12.56" height="12.56" fill="none" stroke="#e6e6e6" stroke-width="0.6"/><rect x="381.12" y="157.26" width="12.56" height="12.56" fill="none" stroke="#e6e6e6" stroke-width="0.6"/><rect x="393.68" y="157.26" width="12.56" height="12.56" fill="none" stroke="#e6e6e6" stroke-width="0.6"/><rect x="406.24" y="157.26" width="12.56" height="12.56" fill="none" stroke="#e6e6e6" stroke-width="0.6"/><rect x="418.80" y="157.26" width="12.56" height="12.56" fill="none" stroke="#e6e6e6" stroke-width="0.6"/><rect x="431.36" y="157.26" width="12.56" height="12.56" fill="none" stroke="#e6e6e6" stroke-width="0.6"/><rect x="293.20" y="169.82" width="12.56" height="12.56" fill="none" stroke="#e6e6e6" stroke-width="0.6"/><rect x="305.76" y="169.82" width="12.56" height="12.56" fill="none" stroke="#e6e6e6" stroke-width="0.6"/><rect x="318.32" y="169.82" width="12.56" height="12.56" fill="none" stroke="#e6e6e6" stroke-width="0.6"/><rect x="330.88" y="169.82" width="12.56" height="12.56" fill="none" stroke="#e6e6e6" stroke-width="0.6"/><rect x="343.44" y="169.82" width="12.56" height="12.56" fill="none" stroke="#e6e6e6" stroke-width="0.6"/><rect x="356.00" y="169.82" width="12.56" height="12.56" fill="none" stroke="#e6e6e6" stroke-width="0.6"/><rect x="368.56" y="169.82" width="12.56" height="12.56" fill="none" stroke="#e6e6e6" stroke-width="0.6"/><rect x="381.12" y="169.82" width="12.56" height="12.56" fill="none" stroke="#e6e6e6" stroke-width="0.6"/><rect x="393.68" y="169.82" width="12.56" height="12.56" fill="none" stroke="#e6e6e6" stroke-width="0.6"/><rect x="406.24" y="169.82" width="12.56" height="12.56" fill="none" stroke="#e6e6e6" stroke-width="0.6"/><rect x="418.80" y="169.82" width="12.56" height="12.56" fill="none" stroke="#e6e6e6" stroke-width="0.6"/><rect x="431.36" y="169.82" width="12.56" height="12.56" fill="none" stroke="#e6e6e6" stroke-width="0.6"/><rect x="443.92" y="169.82" width="12.56" height="12.56" fill="none" stroke="#e6e6e6" stroke-width="0.6"/><rect x="293.20" y="182.38" width="12.56" height="12.56" fill="none" stroke="#e6e6e6" stroke-width="0.6"/><rect x="305.76" y="182.38" width="12.56" height="12.56" fill="none" stroke="#e6e6e6" stroke-width="0.6"/><rect x="318.32" y="182.38" width="12.56" height="12.56" fill="none" stroke="#e6e6e6" stroke-width="0.6"/><rect x="330.88" y="182.38" width="12.56" height="12.56" fill="none" stroke="#e6e6e6" stroke-width="0.6"/><rect x="343.44" y="182.38" width="12.56" height="12.56" fill="none" stroke="#e6e6e6" stroke-width="0.6"/><rect x="356.00" y="182.38" width="12.56" height="12.56" fill="none" stroke="#e6e6e6" stroke-width="0.6"/><rect x="368.56" y="182.38" width="12.56" height="12.56" fill="none" stroke="#e6e6e6" stroke-width="0.6"/><rect x="381.12" y="182.38" width="12.56" height="12.56" fill="none" stroke="#e6e6e6" stroke-width="0.6"/><rect x="393.68" y="182.38" width="12.56" height="12.56" fill="none" stroke="#e6e6e6" stroke-width="0.6"/><rect x="406.24" y="182.38" width="12.56" height="12.56" fill="none" stroke="#e6e6e6" stroke-width="0.6"/><rect x="418.80" y="182.38" width="12.56" height="12.56" fill="none" stroke="#e6e6e6" stroke-width="0.6"/><rect x="431.36" y="182.38" width="12.56" height="12.56" fill="none" stroke="#e6e6e6" stroke-width="0.6"/><rect x="443.92" y="182.38" width="12.56" height="12.56" fill="none" stroke="#e6e6e6" stroke-width="0.6"/><rect x="456.48" y="182.38" width="12.56" height="12.56" fill="none" stroke="#e6e6e6" stroke-width="0.6"/><rect x="293.20" y="194.94" width="12.56" height="12.56" fill="none" stroke="#e6e6e6" stroke-width="0.6"/><rect x="305.76" y="194.94" width="12.56" height="12.56" fill="none" stroke="#e6e6e6" stroke-width="0.6"/><rect x="318.32" y="194.94" width="12.56" height="12.56" fill="none" stroke="#e6e6e6" stroke-width="0.6"/><rect x="330.88" y="194.94" width="12.56" height="12.56" fill="none" stroke="#e6e6e6" stroke-width="0.6"/><rect x="343.44" y="194.94" width="12.56" height="12.56" fill="none" stroke="#e6e6e6" stroke-width="0.6"/><rect x="356.00" y="194.94" width="12.56" height="12.56" fill="none" stroke="#e6e6e6" stroke-width="0.6"/><rect x="368.56" y="194.94" width="12.56" height="12.56" fill="none" stroke="#e6e6e6" stroke-width="0.6"/><rect x="381.12" y="194.94" width="12.56" height="12.56" fill="none" stroke="#e6e6e6" stroke-width="0.6"/><rect x="393.68" y="194.94" width="12.56" height="12.56" fill="none" stroke="#e6e6e6" stroke-width="0.6"/><rect x="406.24" y="194.94" width="12.56" height="12.56" fill="none" stroke="#e6e6e6" stroke-width="0.6"/><rect x="418.80" y="194.94" width="12.56" height="12.56" fill="none" stroke="#e6e6e6" stroke-width="0.6"/><rect x="431.36" y="194.94" width="12.56" height="12.56" fill="none" stroke="#e6e6e6" stroke-width="0.6"/><rect x="443.92" y="194.94" width="12.56" height="12.56" fill="none" stroke="#e6e6e6" stroke-width="0.6"/><rect x="456.48" y="194.94" width="12.56" height="12.56" fill="none" stroke="#e6e6e6" stroke-width="0.6"/><rect x="469.04" y="194.94" width="12.56" height="12.56" fill="none" stroke="#e6e6e6" stroke-width="0.6"/><rect x="293.20" y="207.50" width="12.56" height="12.56" fill="none" stroke="#e6e6e6" stroke-width="0.6"/><rect x="305.76" y="207.50" width="12.56" height="12.56" fill="none" stroke="#e6e6e6" stroke-width="0.6"/><rect x="318.32" y="207.50" width="12.56" height="12.56" fill="none" stroke="#e6e6e6" stroke-width="0.6"/><rect x="330.88" y="207.50" width="12.56" height="12.56" fill="none" stroke="#e6e6e6" stroke-width="0.6"/><rect x="343.44" y="207.50" width="12.56" height="12.56" fill="none" stroke="#e6e6e6" stroke-width="0.6"/><rect x="356.00" y="207.50" width="12.56" height="12.56" fill="none" stroke="#e6e6e6" stroke-width="0.6"/><rect x="368.56" y="207.50" width="12.56" height="12.56" fill="none" stroke="#e6e6e6" stroke-width="0.6"/><rect x="381.12" y="207.50" width="12.56" height="12.56" fill="none" stroke="#e6e6e6" stroke-width="0.6"/><rect x="393.68" y="207.50" width="12.56" height="12.56" fill="none" stroke="#e6e6e6" stroke-width="0.6"/><rect x="406.24" y="207.50" width="12.56" height="12.56" fill="none" stroke="#e6e6e6" stroke-width="0.6"/><rect x="418.80" y="207.50" width="12.56" height="12.56" fill="none" stroke="#e6e6e6" stroke-width="0.6"/><rect x="431.36" y="207.50" width="12.56" height="12.56" fill="none" stroke="#e6e6e6" stroke-width="0.6"/><rect x="443.92" y="207.50" width="12.56" height="12.56" fill="none" stroke="#e6e6e6" stroke-width="0.6"/><rect x="456.48" y="207.50" width="12.56" height="12.56" fill="none" stroke="#e6e6e6" stroke-width="0.6"/><rect x="469.04" y="207.50" width="12.56" height="12.56" fill="none" stroke="#e6e6e6" stroke-width="0.6"/><rect x="481.60" y="207.50" width="12.56" height="12.56" fill="none" stroke="#e6e6e6" stroke-width="0.6"/><rect x="293.20" y="220.06" width="12.56" height="12.56" fill="none" stroke="#e6e6e6" stroke-width="0.6"/><rect x="305.76" y="220.06" width="12.56" height="12.56" fill="none" stroke="#e6e6e6" stroke-width="0.6"/><rect x="318.32" y="220.06" width="12.56" height="12.56" fill="none" stroke="#e6e6e6" stroke-width="0.6"/><rect x="330.88" y="220.06" width="12.56" height="12.56" fill="none" stroke="#e6e6e6" stroke-width="0.6"/><rect x="343.44" y="220.06" width="12.56" height="12.56" fill="none" stroke="#e6e6e6" stroke-width="0.6"/><rect x="356.00" y="220.06" width="12.56" height="12.56" fill="none" stroke="#e6e6e6" stroke-width="0.6"/><rect x="368.56" y="220.06" width="12.56" height="12.56" fill="none" stroke="#e6e6e6" stroke-width="0.6"/><rect x="381.12" y="220.06" width="12.56" height="12.56" fill="none" stroke="#e6e6e6" stroke-width="0.6"/><rect x="393.68" y="220.06" width="12.56" height="12.56" fill="none" stroke="#e6e6e6" stroke-width="0.6"/><rect x="406.24" y="220.06" width="12.56" height="12.56" fill="none" stroke="#e6e6e6" stroke-width="0.6"/><rect x="418.80" y="220.06" width="12.56" height="12.56" fill="none" stroke="#e6e6e6" stroke-width="0.6"/><rect x="431.36" y="220.06" width="12.56" height="12.56" fill="none" stroke="#e6e6e6" stroke-width="0.6"/><rect x="443.92" y="220.06" width="12.56" height="12.56" fill="none" stroke="#e6e6e6" stroke-width="0.6"/><rect x="456.48" y="220.06" width="12.56" height="12.56" fill="none" stroke="#e6e6e6" stroke-width="0.6"/><rect x="469.04" y="220.06" width="12.56" height="12.56" fill="none" stroke="#e6e6e6" stroke-width="0.6"/><rect x="481.60" y="220.06" width="12.56" height="12.56" fill="none" stroke="#e6e6e6" stroke-width="0.6"/><rect x="494.16" y="220.06" width="12.56" height="12.56" fill="none" stroke="#e6e6e6" stroke-width="0.6"/><circle cx="299.48" cy="25.38" r="5.90" fill="#053061"/><circle cx="299.48" cy="37.94" r="4.80" fill="#3985bc"/><circle cx="312.04" cy="37.94" r="5.90" fill="#053061"/><circle cx="299.48" cy="50.50" r="4.80" fill="#3985bc"/><circle cx="312.04" cy="50.50" r="5.81" fill="#09386c"/><circle cx="324.60" cy="50.50" r="5.90" fill="#053061"/><circle cx="299.48" cy="63.06" r="4.80" fill="#3985bc"/><circle cx="312.04" cy="63.06" r="5.81" fill="#09386c"/><circle cx="324.60" cy="63.06" r="5.81" fill="#09386c"/><circle cx="337.16" cy="63.06" r="5.90" fill="#053061"/><circle cx="299.48" cy="75.62" r="4.80" fill="#3985bc"/><circle cx="312.04" cy="75.62" r="5.81" fill="#09386c"/><circle cx="324.60" cy="75.62" r="5.81" fill="#09386c"/><circle cx="337.16" cy="75.62" r="5.81" fill="#09386c"/><circle cx="349.72" cy="75.62" r="5.90" fill="#053061"/><circle cx="299.48" cy="88.18" r="4.80" fill="#3985bc"/><circle cx="312.04" cy="88.18" r="5.81" fill="#09386c"/><circle cx="324.60" cy="88.18" r="5.81" fill="#09386c"/><circle cx="337.16" cy="88.18" r="5.81" fill="#09386c"/><circle cx="349.72" cy="88.18" r="5.81" fill="#09386c"/><circle cx="362.28" cy="88.18" r="5.90" fill="#053061"/><circle cx="299.48" cy="100.74" r="4.57" fill="#d6604d"/><circle cx="312.04" cy="100.74" r="5.63" fill="#890b24"/><circle cx="324.60" cy="100.74" r="5.63" fill="#890b24"/><circle cx="337.16" cy="100.74" r="5.63" fill="#890b24"/><circle cx="349.72" cy="100.74" r="5.63" fill="#890b24"/><circle cx="362.28" cy="100.74" r="5.63" fill="#890b24"/><circle cx="374.84" cy="100.74" r="5.90" fill="#053061"/><circle cx="299.48" cy="113.30" r="4.80" fill="#3985bc"/><circle cx="312.04" cy="113.30" r="5.81" fill="#09386c"/><circle cx="324.60" cy="113.30" r="5.81" fill="#09386c"/><circle cx="337.16" cy="113.30" r="5.81" fill="#09386c"/><circle cx="349.72" cy="113.30" r="5.81" fill="#09386c"/><circle cx="362.28" cy="113.30" r="5.81" fill="#09386c"/><circle cx="374.84" cy="113.30" r="5.63" fill="#890b24"/><circle cx="387.40" cy="113.30" r="5.90" fill="#053061"/><circle cx="299.48" cy="125.86" r="4.80" fill="#3985bc"/><circle cx="312.04" cy="125.86" r="5.81" fill="#09386c"/><circle cx="324.60" cy="125.86" r="5.81" fill="#09386c"/><circle cx="337.16" cy="125.86" r="5.81" fill="#09386c"/><circle cx="349.72" cy="125.86" r="5.81" fill="#09386c"/><circle cx="362.28" cy="125.86" r="5.81" fill="#09386c"/><circle cx="374.84" cy="125.86" r="5.63" fill="#890b24"/><circle cx="387.40" cy="125.86" r="5.81" fill="#09386c"/><circle cx="399.96" cy="125.86" r="5.90" fill="#053061"/><circle cx="299.48" cy="138.42" r="4.80" fill="#3985bc"/><circle cx="312.04" cy="138.42" r="5.81" fill="#09386c"/><circle cx="324.60" cy="138.42" r="5.81" fill="#09386c"/><circle cx="337.16" cy="138.42" r="5.81" fill="#09386c"/><circle cx="349.72" cy="138.42" r="5.81" fill="#09386c"/><circle cx="362.28" cy="138.42" r="5.81" fill="#09386c"/><circle cx="374.84" cy="138.42" r="5.63" fill="#890b24"/><circle cx="387.40" cy="138.42" r="5.81" fill="#09386c"/><circle cx="399.96" cy="138.42" r="5.81" fill="#09386c"/><circle cx="412.52" cy="138.42" r="5.90" fill="#053061"/><circle cx="299.48" cy="150.98" r="4.50" fill="#d96752"/><circle cx="312.04" cy="150.98" r="5.63" fill="#890b24"/><circle cx="324.60" cy="150.98" r="5.63" fill="#890b24"/><circle cx="337.16" cy="150.98" r="5.63" fill="#890b24"/><circle cx="349.72" cy="150.98" r="5.63" fill="#890b24"/><circle cx="362.28" cy="150.98" r="5.63" fill="#890b24"/><circle cx="374.84" cy="150.98" r="5.69" fill="#0f437b"/><circle cx="387.40" cy="150.98" r="5.63" fill="#890b24"/><circle cx="399.96" cy="150.98" r="5.63" fill="#890b24"/><circle cx="412.52" cy="150.98" r="5.44" fill="#9f1228"/><circle cx="425.08" cy="150.98" r="5.90" fill="#053061"/><circle cx="299.48" cy="163.54" r="4.80" fill="#3985bc"/><circle cx="312.04" cy="163.54" r="5.81" fill="#09386c"/><circle cx="324.60" cy="163.54" r="5.81" fill="#09386c"/><circle cx="337.16" cy="163.54" r="5.81" fill="#09386c"/><circle cx="349.72" cy="163.54" r="5.81" fill="#09386c"/><circle cx="362.28" cy="163.54" r="5.81" fill="#09386c"/><circle cx="374.84" cy="163.54" r="5.63" fill="#890b24"/><circle cx="387.40" cy="163.54" r="5.81" fill="#09386c"/><circle cx="399.96" cy="163.54" r="5.81" fill="#09386c"/><circle cx="412.52" cy="163.54" r="5.81" fill="#09386c"/><circle cx="425.08" cy="163.54" r="5.44" fill="#9f1228"/><circle cx="437.64" cy="163.54" r="5.90" fill="#053061"/><circle cx="299.48" cy="176.10" r="4.94" fill="#c43c3c"/><circle cx="312.04" cy="176.10" r="5.63" fill="#890b24"/><circle cx="324.60" cy="176.10" r="5.63" fill="#890b24"/><circle cx="337.16" cy="176.10" r="5.63" fill="#890b24"/><circle cx="349.72" cy="176.10" r="5.63" fill="#890b24"/><circle cx="362.28" cy="176.10" r="5.63" fill="#890b24"/><circle cx="374.84" cy="176.10" r="5.60" fill="#134b86"/><circle cx="387.40" cy="176.10" r="5.63" fill="#890b24"/><circle cx="399.96" cy="176.10" r="5.63" fill="#890b24"/><circle cx="412.52" cy="176.10" r="5.63" fill="#890b24"/><circle cx="425.08" cy="176.10" r="5.44" fill="#1a5899"/><circle cx="437.64" cy="176.10" r="5.63" fill="#890b24"/><circle cx="450.20" cy="176.10" r="5.90" fill="#053061"/><circle cx="299.48" cy="188.66" r="4.80" fill="#3985bc"/><circle cx="312.04" cy="188.66" r="5.81" fill="#09386c"/><circle cx="324.60" cy="188.66" r="5.81" fill="#09386c"/><circle cx="337.16" cy="188.66" r="5.81" fill="#09386c"/><circle cx="349.72" cy="188.66" r="5.81" fill="#09386c"/><circle cx="362.28" cy="188.66" r="5.81" fill="#09386c"/><circle cx="374.84" cy="188.66" r="5.63" fill="#890b24"/><circle cx="387.40" cy="188.66" r="5.81" fill="#09386c"/><circle cx="399.96" cy="188.66" r="5.81" fill="#09386c"/><circle cx="412.52" cy="188.66" r="5.81" fill="#09386c"/><circle cx="425.08" cy="188.66" r="5.28" fill="#b2182b"/><circle cx="437.64" cy="188.66" r="5.81" fill="#09386c"/><circle cx="450.20" cy="188.66" r="5.63" fill="#890b24"/><circle cx="462.76" cy="188.66" r="5.90" fill="#053061"/><circle cx="299.48" cy="201.22" r="4.80" fill="#3985bc"/><circle cx="312.04" cy="201.22" r="5.81" fill="#09386c"/><circle cx="324.60" cy="201.22" r="5.81" fill="#09386c"/><circle cx="337.16" cy="201.22" r="5.81" fill="#09386c"/><circle cx="349.72" cy="201.22" r="5.81" fill="#09386c"/><circle cx="362.28" cy="201.22" r="5.81" fill="#09386c"/><circle cx="374.84" cy="201.22" r="5.63" fill="#890b24"/><circle cx="387.40" cy="201.22" r="5.81" fill="#09386c"/><circle cx="399.96" cy="201.22" r="5.81" fill="#09386c"/><circle cx="412.52" cy="201.22" r="5.81" fill="#09386c"/><circle cx="425.08" cy="201.22" r="5.63" fill="#890b24"/><circle cx="437.64" cy="201.22" r="5.81" fill="#09386c"/><circle cx="450.20" cy="201.22" r="5.63" fill="#890b24"/><circle cx="462.76" cy="201.22" r="5.60" fill="#134b86"/><circle cx="475.32" cy="201.22" r="5.90" fill="#053061"/><circle cx="299.48" cy="213.78" r="4.80" fill="#3985bc"/><circle cx="312.04" cy="213.78" r="5.81" fill="#09386c"/><circle cx="324.60" cy="213.78" r="5.81" fill="#09386c"/><circle cx="337.16" cy="213.78" r="5.81" fill="#09386c"/><circle cx="349.72" cy="213.78" r="5.81" fill="#09386c"/><circle cx="362.28" cy="213.78" r="5.81" fill="#09386c"/><circle cx="374.84" cy="213.78" r="5.63" fill="#890b24"/><circle cx="387.40" cy="213.78" r="5.81" fill="#09386c"/><circle cx="399.96" cy="213.78" r="5.81" fill="#09386c"/><circle cx="412.52" cy="213.78" r="5.81" fill="#09386c"/><circle cx="425.08" cy="213.78" r="5.41" fill="#a31329"/><circle cx="437.64" cy="213.78" r="5.81" fill="#09386c"/><circle cx="450.20" cy="213.78" r="5.63" fill="#890b24"/><circle cx="462.76" cy="213.78" r="5.66" fill="#10467f"/><circle cx="475.32" cy="213.78" r="5.81" fill="#09386c"/><circle cx="487.88" cy="213.78" r="5.90" fill="#053061"/><circle cx="299.48" cy="226.34" r="4.80" fill="#3985bc"/><circle cx="312.04" cy="226.34" r="5.81" fill="#09386c"/><circle cx="324.60" cy="226.34" r="5.81" fill="#09386c"/><circle cx="337.16" cy="226.34" r="5.81" fill="#09386c"/><circle cx="349.72" cy="226.34" r="5.81" fill="#09386c"/><circle cx="362.28" cy="226.34" r="5.81" fill="#09386c"/><circle cx="374.84" cy="226.34" r="5.63" fill="#890b24"/><circle cx="387.40" cy="226.34" r="5.81" fill="#09386c"/><circle cx="399.96" cy="226.34" r="5.81" fill="#09386c"/><circle cx="412.52" cy="226.34" r="5.81" fill="#09386c"/><circle cx="425.08" cy="226.34" r="5.41" fill="#a31329"/><circle cx="437.64" cy="226.34" r="5.81" fill="#09386c"/><circle cx="450.20" cy="226.34" r="5.63" fill="#890b24"/><circle cx="462.76" cy="226.34" r="5.66" fill="#10467f"/><circle cx="475.32" cy="226.34" r="5.81" fill="#09386c"/><circle cx="487.88" cy="226.34" r="5.81" fill="#09386c"/><circle cx="500.44" cy="226.34" r="5.90" fill="#053061"/><text class="r" transform="translate(290.00 27.38) scale(1.015 1)" font-size="6.9" text-anchor="end" fill="#e21a22" letter-spacing="-0.25">GY</text><text class="r" transform="translate(290.00 39.94) scale(1.015 1)" font-size="6.9" text-anchor="end" fill="#e21a22" letter-spacing="-0.25">NDVI</text><text class="r" transform="translate(290.00 52.50) scale(1.015 1)" font-size="6.9" text-anchor="end" fill="#e21a22" letter-spacing="-0.25">NDRE</text><text class="r" transform="translate(290.00 65.06) scale(1.015 1)" font-size="6.9" text-anchor="end" fill="#e21a22" letter-spacing="-0.25">BNDVI</text><text class="r" transform="translate(290.00 77.62) scale(1.015 1)" font-size="6.9" text-anchor="end" fill="#e21a22" letter-spacing="-0.25">GNDVI</text><text class="r" transform="translate(290.00 90.18) scale(1.015 1)" font-size="6.9" text-anchor="end" fill="#e21a22" letter-spacing="-0.25">BWDRVI</text><text class="r" transform="translate(290.00 102.74) scale(1.015 1)" font-size="6.9" text-anchor="end" fill="#e21a22" letter-spacing="-0.25">CI</text><text class="r" transform="translate(290.00 115.30) scale(1.015 1)" font-size="6.9" text-anchor="end" fill="#e21a22" letter-spacing="-0.25">TVI</text><text class="r" transform="translate(290.00 127.86) scale(1.015 1)" font-size="6.9" text-anchor="end" fill="#e21a22" letter-spacing="-0.25">WDRVI</text><text class="r" transform="translate(290.00 140.42) scale(1.015 1)" font-size="6.9" text-anchor="end" fill="#e21a22" letter-spacing="-0.25">GRVI</text><text class="r" transform="translate(290.00 152.98) scale(1.015 1)" font-size="6.9" text-anchor="end" fill="#e21a22" letter-spacing="-0.25">RGR</text><text class="r" transform="translate(290.00 165.54) scale(1.015 1)" font-size="6.9" text-anchor="end" fill="#e21a22" letter-spacing="-0.25">RRI1</text><text class="r" transform="translate(290.00 178.10) scale(1.015 1)" font-size="6.9" text-anchor="end" fill="#e21a22" letter-spacing="-0.25">RRI2</text><text class="r" transform="translate(290.00 190.66) scale(1.015 1)" font-size="6.9" text-anchor="end" fill="#e21a22" letter-spacing="-0.25">SARVI</text><text class="r" transform="translate(290.00 203.22) scale(1.015 1)" font-size="6.9" text-anchor="end" fill="#e21a22" letter-spacing="-0.25">ATSAVI</text><text class="r" transform="translate(290.00 215.78) scale(1.015 1)" font-size="6.9" text-anchor="end" fill="#e21a22" letter-spacing="-0.25">CIg</text><text class="r" transform="translate(290.00 228.34) scale(1.015 1)" font-size="6.9" text-anchor="end" fill="#e21a22" letter-spacing="-0.25">CIre</text><text class="r" transform="translate(301.88 16.90) rotate(-90) scale(1.02 1)" font-size="6.9" fill="#e21a22" letter-spacing="-0.25">GY</text><text class="r" transform="translate(314.44 29.46) rotate(-90) scale(1.02 1)" font-size="6.9" fill="#e21a22" letter-spacing="-0.25">NDVI</text><text class="r" transform="translate(327.00 42.02) rotate(-90) scale(1.02 1)" font-size="6.9" fill="#e21a22" letter-spacing="-0.25">NDRE</text><text class="r" transform="translate(339.56 54.58) rotate(-90) scale(1.02 1)" font-size="6.9" fill="#e21a22" letter-spacing="-0.25">BNDVI</text><text class="r" transform="translate(352.12 67.14) rotate(-90) scale(1.02 1)" font-size="6.9" fill="#e21a22" letter-spacing="-0.25">GNDVI</text><text class="r" transform="translate(364.68 79.70) rotate(-90) scale(1.02 1)" font-size="6.9" fill="#e21a22" letter-spacing="-0.25">BWDRVI</text><text class="r" transform="translate(377.24 92.26) rotate(-90) scale(1.02 1)" font-size="6.9" fill="#e21a22" letter-spacing="-0.25">CI</text><text transform="translate(389.40 104.02) rotate(-90)" font-size="6.2" fill="#ec6c6c" font-weight="normal" style="font-weight:normal">TVI</text><text class="r" transform="translate(402.36 117.38) rotate(-90) scale(1.02 1)" font-size="6.9" fill="#e21a22" letter-spacing="-0.25">WDRVI</text><text class="r" transform="translate(414.92 129.94) rotate(-90) scale(1.02 1)" font-size="6.9" fill="#e21a22" letter-spacing="-0.25">GRVI</text><text class="r" transform="translate(427.48 142.50) rotate(-90) scale(1.02 1)" font-size="6.9" fill="#e21a22" letter-spacing="-0.25">RGR</text><text class="r" transform="translate(440.04 155.06) rotate(-90) scale(1.02 1)" font-size="6.9" fill="#e21a22" letter-spacing="-0.25">RRI1</text><text class="r" transform="translate(452.60 167.62) rotate(-90) scale(1.02 1)" font-size="6.9" fill="#e21a22" letter-spacing="-0.25">RRI2</text><text class="r" transform="translate(465.16 180.18) rotate(-90) scale(1.02 1)" font-size="6.9" fill="#e21a22" letter-spacing="-0.25">SARVI</text><text class="r" transform="translate(477.72 192.74) rotate(-90) scale(1.02 1)" font-size="6.9" fill="#e21a22" letter-spacing="-0.25">ATSAVI</text><text class="r" transform="translate(490.28 205.30) rotate(-90) scale(1.02 1)" font-size="6.9" fill="#e21a22" letter-spacing="-0.25">CIg</text><text class="r" transform="translate(502.84 217.86) rotate(-90) scale(1.02 1)" font-size="6.9" fill="#e21a22" letter-spacing="-0.25">CIre</text><rect x="293.20" y="237.00" width="213.52" height="7.8" fill="url(#cb)" stroke="#222" stroke-width="0.5"/><line x1="293.20" x2="293.20" y1="244.80" y2="246.30" stroke="#222" stroke-width="0.5"/><text class="k" x="292.00" y="255.40" font-size="9.7" letter-spacing="-0.2" text-anchor="middle" fill="#111"><tspan font-size="10.6">−</tspan><tspan dx="0.9">1</tspan></text><line x1="314.55" x2="314.55" y1="244.80" y2="246.30" stroke="#222" stroke-width="0.5"/><text class="k" x="313.35" y="255.40" font-size="9.7" letter-spacing="-0.2" text-anchor="middle" fill="#111"><tspan font-size="10.6">−</tspan><tspan dx="0.9">0.8</tspan></text><line x1="335.90" x2="335.90" y1="244.80" y2="246.30" stroke="#222" stroke-width="0.5"/><text class="k" x="334.70" y="255.40" font-size="9.7" letter-spacing="-0.2" text-anchor="middle" fill="#111"><tspan font-size="10.6">−</tspan><tspan dx="0.9">0.6</tspan></text><line x1="357.26" x2="357.26" y1="244.80" y2="246.30" stroke="#222" stroke-width="0.5"/><text class="k" x="356.06" y="255.40" font-size="9.7" letter-spacing="-0.2" text-anchor="middle" fill="#111"><tspan font-size="10.6">−</tspan><tspan dx="0.9">0.4</tspan></text><line x1="378.61" x2="378.61" y1="244.80" y2="246.30" stroke="#222" stroke-width="0.5"/><text class="k" x="377.41" y="255.40" font-size="9.7" letter-spacing="-0.2" text-anchor="middle" fill="#111"><tspan font-size="10.6">−</tspan><tspan dx="0.9">0.2</tspan></text><line x1="399.96" x2="399.96" y1="244.80" y2="246.30" stroke="#222" stroke-width="0.5"/><text class="k" x="399.66" y="255.40" font-size="9.7" letter-spacing="-0.2" text-anchor="middle" fill="#111">0</text><line x1="421.31" x2="421.31" y1="244.80" y2="246.30" stroke="#222" stroke-width="0.5"/><text class="k" x="421.01" y="255.40" font-size="9.7" letter-spacing="-0.2" text-anchor="middle" fill="#111">0.2</text><line x1="442.66" x2="442.66" y1="244.80" y2="246.30" stroke="#222" stroke-width="0.5"/><text class="k" x="442.36" y="255.40" font-size="9.7" letter-spacing="-0.2" text-anchor="middle" fill="#111">0.4</text><line x1="464.02" x2="464.02" y1="244.80" y2="246.30" stroke="#222" stroke-width="0.5"/><text class="k" x="463.72" y="255.40" font-size="9.7" letter-spacing="-0.2" text-anchor="middle" fill="#111">0.6</text><line x1="485.37" x2="485.37" y1="244.80" y2="246.30" stroke="#222" stroke-width="0.5"/><text class="k" x="485.07" y="255.40" font-size="9.7" letter-spacing="-0.2" text-anchor="middle" fill="#111">0.8</text><line x1="506.72" x2="506.72" y1="244.80" y2="246.30" stroke="#222" stroke-width="0.5"/><text class="k" x="506.42" y="255.40" font-size="9.7" letter-spacing="-0.2" text-anchor="middle" fill="#111">1</text><text class="t" x="401.56" y="268.20" font-size="15.2" text-anchor="middle" fill="#222" letter-spacing="1.3">(b)</text></g>
<g><rect x="38.00" y="290.10" width="12.56" height="12.56" fill="none" stroke="#e6e6e6" stroke-width="0.6"/><rect x="38.00" y="302.66" width="12.56" height="12.56" fill="none" stroke="#e6e6e6" stroke-width="0.6"/><rect x="50.56" y="302.66" width="12.56" height="12.56" fill="none" stroke="#e6e6e6" stroke-width="0.6"/><rect x="38.00" y="315.22" width="12.56" height="12.56" fill="none" stroke="#e6e6e6" stroke-width="0.6"/><rect x="50.56" y="315.22" width="12.56" height="12.56" fill="none" stroke="#e6e6e6" stroke-width="0.6"/><rect x="63.12" y="315.22" width="12.56" height="12.56" fill="none" stroke="#e6e6e6" stroke-width="0.6"/><rect x="38.00" y="327.78" width="12.56" height="12.56" fill="none" stroke="#e6e6e6" stroke-width="0.6"/><rect x="50.56" y="327.78" width="12.56" height="12.56" fill="none" stroke="#e6e6e6" stroke-width="0.6"/><rect x="63.12" y="327.78" width="12.56" height="12.56" fill="none" stroke="#e6e6e6" stroke-width="0.6"/><rect x="75.68" y="327.78" width="12.56" height="12.56" fill="none" stroke="#e6e6e6" stroke-width="0.6"/><rect x="38.00" y="340.34" width="12.56" height="12.56" fill="none" stroke="#e6e6e6" stroke-width="0.6"/><rect x="50.56" y="340.34" width="12.56" height="12.56" fill="none" stroke="#e6e6e6" stroke-width="0.6"/><rect x="63.12" y="340.34" width="12.56" height="12.56" fill="none" stroke="#e6e6e6" stroke-width="0.6"/><rect x="75.68" y="340.34" width="12.56" height="12.56" fill="none" stroke="#e6e6e6" stroke-width="0.6"/><rect x="88.24" y="340.34" width="12.56" height="12.56" fill="none" stroke="#e6e6e6" stroke-width="0.6"/><rect x="38.00" y="352.90" width="12.56" height="12.56" fill="none" stroke="#e6e6e6" stroke-width="0.6"/><rect x="50.56" y="352.90" width="12.56" height="12.56" fill="none" stroke="#e6e6e6" stroke-width="0.6"/><rect x="63.12" y="352.90" width="12.56" height="12.56" fill="none" stroke="#e6e6e6" stroke-width="0.6"/><rect x="75.68" y="352.90" width="12.56" height="12.56" fill="none" stroke="#e6e6e6" stroke-width="0.6"/><rect x="88.24" y="352.90" width="12.56" height="12.56" fill="none" stroke="#e6e6e6" stroke-width="0.6"/><rect x="100.80" y="352.90" width="12.56" height="12.56" fill="none" stroke="#e6e6e6" stroke-width="0.6"/><rect x="38.00" y="365.46" width="12.56" height="12.56" fill="none" stroke="#e6e6e6" stroke-width="0.6"/><rect x="50.56" y="365.46" width="12.56" height="12.56" fill="none" stroke="#e6e6e6" stroke-width="0.6"/><rect x="63.12" y="365.46" width="12.56" height="12.56" fill="none" stroke="#e6e6e6" stroke-width="0.6"/><rect x="75.68" y="365.46" width="12.56" height="12.56" fill="none" stroke="#e6e6e6" stroke-width="0.6"/><rect x="88.24" y="365.46" width="12.56" height="12.56" fill="none" stroke="#e6e6e6" stroke-width="0.6"/><rect x="100.80" y="365.46" width="12.56" height="12.56" fill="none" stroke="#e6e6e6" stroke-width="0.6"/><rect x="113.36" y="365.46" width="12.56" height="12.56" fill="none" stroke="#e6e6e6" stroke-width="0.6"/><rect x="38.00" y="378.02" width="12.56" height="12.56" fill="none" stroke="#e6e6e6" stroke-width="0.6"/><rect x="50.56" y="378.02" width="12.56" height="12.56" fill="none" stroke="#e6e6e6" stroke-width="0.6"/><rect x="63.12" y="378.02" width="12.56" height="12.56" fill="none" stroke="#e6e6e6" stroke-width="0.6"/><rect x="75.68" y="378.02" width="12.56" height="12.56" fill="none" stroke="#e6e6e6" stroke-width="0.6"/><rect x="88.24" y="378.02" width="12.56" height="12.56" fill="none" stroke="#e6e6e6" stroke-width="0.6"/><rect x="100.80" y="378.02" width="12.56" height="12.56" fill="none" stroke="#e6e6e6" stroke-width="0.6"/><rect x="113.36" y="378.02" width="12.56" height="12.56" fill="none" stroke="#e6e6e6" stroke-width="0.6"/><rect x="125.92" y="378.02" width="12.56" height="12.56" fill="none" stroke="#e6e6e6" stroke-width="0.6"/><rect x="38.00" y="390.58" width="12.56" height="12.56" fill="none" stroke="#e6e6e6" stroke-width="0.6"/><rect x="50.56" y="390.58" width="12.56" height="12.56" fill="none" stroke="#e6e6e6" stroke-width="0.6"/><rect x="63.12" y="390.58" width="12.56" height="12.56" fill="none" stroke="#e6e6e6" stroke-width="0.6"/><rect x="75.68" y="390.58" width="12.56" height="12.56" fill="none" stroke="#e6e6e6" stroke-width="0.6"/><rect x="88.24" y="390.58" width="12.56" height="12.56" fill="none" stroke="#e6e6e6" stroke-width="0.6"/><rect x="100.80" y="390.58" width="12.56" height="12.56" fill="none" stroke="#e6e6e6" stroke-width="0.6"/><rect x="113.36" y="390.58" width="12.56" height="12.56" fill="none" stroke="#e6e6e6" stroke-width="0.6"/><rect x="125.92" y="390.58" width="12.56" height="12.56" fill="none" stroke="#e6e6e6" stroke-width="0.6"/><rect x="138.48" y="390.58" width="12.56" height="12.56" fill="none" stroke="#e6e6e6" stroke-width="0.6"/><rect x="38.00" y="403.14" width="12.56" height="12.56" fill="none" stroke="#e6e6e6" stroke-width="0.6"/><rect x="50.56" y="403.14" width="12.56" height="12.56" fill="none" stroke="#e6e6e6" stroke-width="0.6"/><rect x="63.12" y="403.14" width="12.56" height="12.56" fill="none" stroke="#e6e6e6" stroke-width="0.6"/><rect x="75.68" y="403.14" width="12.56" height="12.56" fill="none" stroke="#e6e6e6" stroke-width="0.6"/><rect x="88.24" y="403.14" width="12.56" height="12.56" fill="none" stroke="#e6e6e6" stroke-width="0.6"/><rect x="100.80" y="403.14" width="12.56" height="12.56" fill="none" stroke="#e6e6e6" stroke-width="0.6"/><rect x="113.36" y="403.14" width="12.56" height="12.56" fill="none" stroke="#e6e6e6" stroke-width="0.6"/><rect x="125.92" y="403.14" width="12.56" height="12.56" fill="none" stroke="#e6e6e6" stroke-width="0.6"/><rect x="138.48" y="403.14" width="12.56" height="12.56" fill="none" stroke="#e6e6e6" stroke-width="0.6"/><rect x="151.04" y="403.14" width="12.56" height="12.56" fill="none" stroke="#e6e6e6" stroke-width="0.6"/><rect x="38.00" y="415.70" width="12.56" height="12.56" fill="none" stroke="#e6e6e6" stroke-width="0.6"/><rect x="50.56" y="415.70" width="12.56" height="12.56" fill="none" stroke="#e6e6e6" stroke-width="0.6"/><rect x="63.12" y="415.70" width="12.56" height="12.56" fill="none" stroke="#e6e6e6" stroke-width="0.6"/><rect x="75.68" y="415.70" width="12.56" height="12.56" fill="none" stroke="#e6e6e6" stroke-width="0.6"/><rect x="88.24" y="415.70" width="12.56" height="12.56" fill="none" stroke="#e6e6e6" stroke-width="0.6"/><rect x="100.80" y="415.70" width="12.56" height="12.56" fill="none" stroke="#e6e6e6" stroke-width="0.6"/><rect x="113.36" y="415.70" width="12.56" height="12.56" fill="none" stroke="#e6e6e6" stroke-width="0.6"/><rect x="125.92" y="415.70" width="12.56" height="12.56" fill="none" stroke="#e6e6e6" stroke-width="0.6"/><rect x="138.48" y="415.70" width="12.56" height="12.56" fill="none" stroke="#e6e6e6" stroke-width="0.6"/><rect x="151.04" y="415.70" width="12.56" height="12.56" fill="none" stroke="#e6e6e6" stroke-width="0.6"/><rect x="163.60" y="415.70" width="12.56" height="12.56" fill="none" stroke="#e6e6e6" stroke-width="0.6"/><rect x="38.00" y="428.26" width="12.56" height="12.56" fill="none" stroke="#e6e6e6" stroke-width="0.6"/><rect x="50.56" y="428.26" width="12.56" height="12.56" fill="none" stroke="#e6e6e6" stroke-width="0.6"/><rect x="63.12" y="428.26" width="12.56" height="12.56" fill="none" stroke="#e6e6e6" stroke-width="0.6"/><rect x="75.68" y="428.26" width="12.56" height="12.56" fill="none" stroke="#e6e6e6" stroke-width="0.6"/><rect x="88.24" y="428.26" width="12.56" height="12.56" fill="none" stroke="#e6e6e6" stroke-width="0.6"/><rect x="100.80" y="428.26" width="12.56" height="12.56" fill="none" stroke="#e6e6e6" stroke-width="0.6"/><rect x="113.36" y="428.26" width="12.56" height="12.56" fill="none" stroke="#e6e6e6" stroke-width="0.6"/><rect x="125.92" y="428.26" width="12.56" height="12.56" fill="none" stroke="#e6e6e6" stroke-width="0.6"/><rect x="138.48" y="428.26" width="12.56" height="12.56" fill="none" stroke="#e6e6e6" stroke-width="0.6"/><rect x="151.04" y="428.26" width="12.56" height="12.56" fill="none" stroke="#e6e6e6" stroke-width="0.6"/><rect x="163.60" y="428.26" width="12.56" height="12.56" fill="none" stroke="#e6e6e6" stroke-width="0.6"/><rect x="176.16" y="428.26" width="12.56" height="12.56" fill="none" stroke="#e6e6e6" stroke-width="0.6"/><rect x="38.00" y="440.82" width="12.56" height="12.56" fill="none" stroke="#e6e6e6" stroke-width="0.6"/><rect x="50.56" y="440.82" width="12.56" height="12.56" fill="none" stroke="#e6e6e6" stroke-width="0.6"/><rect x="63.12" y="440.82" width="12.56" height="12.56" fill="none" stroke="#e6e6e6" stroke-width="0.6"/><rect x="75.68" y="440.82" width="12.56" height="12.56" fill="none" stroke="#e6e6e6" stroke-width="0.6"/><rect x="88.24" y="440.82" width="12.56" height="12.56" fill="none" stroke="#e6e6e6" stroke-width="0.6"/><rect x="100.80" y="440.82" width="12.56" height="12.56" fill="none" stroke="#e6e6e6" stroke-width="0.6"/><rect x="113.36" y="440.82" width="12.56" height="12.56" fill="none" stroke="#e6e6e6" stroke-width="0.6"/><rect x="125.92" y="440.82" width="12.56" height="12.56" fill="none" stroke="#e6e6e6" stroke-width="0.6"/><rect x="138.48" y="440.82" width="12.56" height="12.56" fill="none" stroke="#e6e6e6" stroke-width="0.6"/><rect x="151.04" y="440.82" width="12.56" height="12.56" fill="none" stroke="#e6e6e6" stroke-width="0.6"/><rect x="163.60" y="440.82" width="12.56" height="12.56" fill="none" stroke="#e6e6e6" stroke-width="0.6"/><rect x="176.16" y="440.82" width="12.56" height="12.56" fill="none" stroke="#e6e6e6" stroke-width="0.6"/><rect x="188.72" y="440.82" width="12.56" height="12.56" fill="none" stroke="#e6e6e6" stroke-width="0.6"/><rect x="38.00" y="453.38" width="12.56" height="12.56" fill="none" stroke="#e6e6e6" stroke-width="0.6"/><rect x="50.56" y="453.38" width="12.56" height="12.56" fill="none" stroke="#e6e6e6" stroke-width="0.6"/><rect x="63.12" y="453.38" width="12.56" height="12.56" fill="none" stroke="#e6e6e6" stroke-width="0.6"/><rect x="75.68" y="453.38" width="12.56" height="12.56" fill="none" stroke="#e6e6e6" stroke-width="0.6"/><rect x="88.24" y="453.38" width="12.56" height="12.56" fill="none" stroke="#e6e6e6" stroke-width="0.6"/><rect x="100.80" y="453.38" width="12.56" height="12.56" fill="none" stroke="#e6e6e6" stroke-width="0.6"/><rect x="113.36" y="453.38" width="12.56" height="12.56" fill="none" stroke="#e6e6e6" stroke-width="0.6"/><rect x="125.92" y="453.38" width="12.56" height="12.56" fill="none" stroke="#e6e6e6" stroke-width="0.6"/><rect x="138.48" y="453.38" width="12.56" height="12.56" fill="none" stroke="#e6e6e6" stroke-width="0.6"/><rect x="151.04" y="453.38" width="12.56" height="12.56" fill="none" stroke="#e6e6e6" stroke-width="0.6"/><rect x="163.60" y="453.38" width="12.56" height="12.56" fill="none" stroke="#e6e6e6" stroke-width="0.6"/><rect x="176.16" y="453.38" width="12.56" height="12.56" fill="none" stroke="#e6e6e6" stroke-width="0.6"/><rect x="188.72" y="453.38" width="12.56" height="12.56" fill="none" stroke="#e6e6e6" stroke-width="0.6"/><rect x="201.28" y="453.38" width="12.56" height="12.56" fill="none" stroke="#e6e6e6" stroke-width="0.6"/><rect x="38.00" y="465.94" width="12.56" height="12.56" fill="none" stroke="#e6e6e6" stroke-width="0.6"/><rect x="50.56" y="465.94" width="12.56" height="12.56" fill="none" stroke="#e6e6e6" stroke-width="0.6"/><rect x="63.12" y="465.94" width="12.56" height="12.56" fill="none" stroke="#e6e6e6" stroke-width="0.6"/><rect x="75.68" y="465.94" width="12.56" height="12.56" fill="none" stroke="#e6e6e6" stroke-width="0.6"/><rect x="88.24" y="465.94" width="12.56" height="12.56" fill="none" stroke="#e6e6e6" stroke-width="0.6"/><rect x="100.80" y="465.94" width="12.56" height="12.56" fill="none" stroke="#e6e6e6" stroke-width="0.6"/><rect x="113.36" y="465.94" width="12.56" height="12.56" fill="none" stroke="#e6e6e6" stroke-width="0.6"/><rect x="125.92" y="465.94" width="12.56" height="12.56" fill="none" stroke="#e6e6e6" stroke-width="0.6"/><rect x="138.48" y="465.94" width="12.56" height="12.56" fill="none" stroke="#e6e6e6" stroke-width="0.6"/><rect x="151.04" y="465.94" width="12.56" height="12.56" fill="none" stroke="#e6e6e6" stroke-width="0.6"/><rect x="163.60" y="465.94" width="12.56" height="12.56" fill="none" stroke="#e6e6e6" stroke-width="0.6"/><rect x="176.16" y="465.94" width="12.56" height="12.56" fill="none" stroke="#e6e6e6" stroke-width="0.6"/><rect x="188.72" y="465.94" width="12.56" height="12.56" fill="none" stroke="#e6e6e6" stroke-width="0.6"/><rect x="201.28" y="465.94" width="12.56" height="12.56" fill="none" stroke="#e6e6e6" stroke-width="0.6"/><rect x="213.84" y="465.94" width="12.56" height="12.56" fill="none" stroke="#e6e6e6" stroke-width="0.6"/><rect x="38.00" y="478.50" width="12.56" height="12.56" fill="none" stroke="#e6e6e6" stroke-width="0.6"/><rect x="50.56" y="478.50" width="12.56" height="12.56" fill="none" stroke="#e6e6e6" stroke-width="0.6"/><rect x="63.12" y="478.50" width="12.56" height="12.56" fill="none" stroke="#e6e6e6" stroke-width="0.6"/><rect x="75.68" y="478.50" width="12.56" height="12.56" fill="none" stroke="#e6e6e6" stroke-width="0.6"/><rect x="88.24" y="478.50" width="12.56" height="12.56" fill="none" stroke="#e6e6e6" stroke-width="0.6"/><rect x="100.80" y="478.50" width="12.56" height="12.56" fill="none" stroke="#e6e6e6" stroke-width="0.6"/><rect x="113.36" y="478.50" width="12.56" height="12.56" fill="none" stroke="#e6e6e6" stroke-width="0.6"/><rect x="125.92" y="478.50" width="12.56" height="12.56" fill="none" stroke="#e6e6e6" stroke-width="0.6"/><rect x="138.48" y="478.50" width="12.56" height="12.56" fill="none" stroke="#e6e6e6" stroke-width="0.6"/><rect x="151.04" y="478.50" width="12.56" height="12.56" fill="none" stroke="#e6e6e6" stroke-width="0.6"/><rect x="163.60" y="478.50" width="12.56" height="12.56" fill="none" stroke="#e6e6e6" stroke-width="0.6"/><rect x="176.16" y="478.50" width="12.56" height="12.56" fill="none" stroke="#e6e6e6" stroke-width="0.6"/><rect x="188.72" y="478.50" width="12.56" height="12.56" fill="none" stroke="#e6e6e6" stroke-width="0.6"/><rect x="201.28" y="478.50" width="12.56" height="12.56" fill="none" stroke="#e6e6e6" stroke-width="0.6"/><rect x="213.84" y="478.50" width="12.56" height="12.56" fill="none" stroke="#e6e6e6" stroke-width="0.6"/><rect x="226.40" y="478.50" width="12.56" height="12.56" fill="none" stroke="#e6e6e6" stroke-width="0.6"/><rect x="38.00" y="491.06" width="12.56" height="12.56" fill="none" stroke="#e6e6e6" stroke-width="0.6"/><rect x="50.56" y="491.06" width="12.56" height="12.56" fill="none" stroke="#e6e6e6" stroke-width="0.6"/><rect x="63.12" y="491.06" width="12.56" height="12.56" fill="none" stroke="#e6e6e6" stroke-width="0.6"/><rect x="75.68" y="491.06" width="12.56" height="12.56" fill="none" stroke="#e6e6e6" stroke-width="0.6"/><rect x="88.24" y="491.06" width="12.56" height="12.56" fill="none" stroke="#e6e6e6" stroke-width="0.6"/><rect x="100.80" y="491.06" width="12.56" height="12.56" fill="none" stroke="#e6e6e6" stroke-width="0.6"/><rect x="113.36" y="491.06" width="12.56" height="12.56" fill="none" stroke="#e6e6e6" stroke-width="0.6"/><rect x="125.92" y="491.06" width="12.56" height="12.56" fill="none" stroke="#e6e6e6" stroke-width="0.6"/><rect x="138.48" y="491.06" width="12.56" height="12.56" fill="none" stroke="#e6e6e6" stroke-width="0.6"/><rect x="151.04" y="491.06" width="12.56" height="12.56" fill="none" stroke="#e6e6e6" stroke-width="0.6"/><rect x="163.60" y="491.06" width="12.56" height="12.56" fill="none" stroke="#e6e6e6" stroke-width="0.6"/><rect x="176.16" y="491.06" width="12.56" height="12.56" fill="none" stroke="#e6e6e6" stroke-width="0.6"/><rect x="188.72" y="491.06" width="12.56" height="12.56" fill="none" stroke="#e6e6e6" stroke-width="0.6"/><rect x="201.28" y="491.06" width="12.56" height="12.56" fill="none" stroke="#e6e6e6" stroke-width="0.6"/><rect x="213.84" y="491.06" width="12.56" height="12.56" fill="none" stroke="#e6e6e6" stroke-width="0.6"/><rect x="226.40" y="491.06" width="12.56" height="12.56" fill="none" stroke="#e6e6e6" stroke-width="0.6"/><rect x="238.96" y="491.06" width="12.56" height="12.56" fill="none" stroke="#e6e6e6" stroke-width="0.6"/><circle cx="44.28" cy="296.38" r="5.90" fill="#053061"/><circle cx="44.28" cy="308.94" r="5.04" fill="#2d76b4"/><circle cx="56.84" cy="308.94" r="5.90" fill="#053061"/><circle cx="44.28" cy="321.50" r="5.04" fill="#2d76b4"/><circle cx="56.84" cy="321.50" r="5.81" fill="#09386c"/><circle cx="69.40" cy="321.50" r="5.90" fill="#053061"/><circle cx="44.28" cy="334.06" r="5.04" fill="#2d76b4"/><circle cx="56.84" cy="334.06" r="5.81" fill="#09386c"/><circle cx="69.40" cy="334.06" r="5.81" fill="#09386c"/><circle cx="81.96" cy="334.06" r="5.90" fill="#053061"/><circle cx="44.28" cy="346.62" r="5.04" fill="#2d76b4"/><circle cx="56.84" cy="346.62" r="5.81" fill="#09386c"/><circle cx="69.40" cy="346.62" r="5.81" fill="#09386c"/><circle cx="81.96" cy="346.62" r="5.81" fill="#09386c"/><circle cx="94.52" cy="346.62" r="5.90" fill="#053061"/><circle cx="44.28" cy="359.18" r="5.04" fill="#2d76b4"/><circle cx="56.84" cy="359.18" r="5.81" fill="#09386c"/><circle cx="69.40" cy="359.18" r="5.81" fill="#09386c"/><circle cx="81.96" cy="359.18" r="5.81" fill="#09386c"/><circle cx="94.52" cy="359.18" r="5.81" fill="#09386c"/><circle cx="107.08" cy="359.18" r="5.90" fill="#053061"/><circle cx="44.28" cy="371.74" r="5.11" fill="#bb2a34"/><circle cx="56.84" cy="371.74" r="5.72" fill="#7e0723"/><circle cx="69.40" cy="371.74" r="5.72" fill="#7e0723"/><circle cx="81.96" cy="371.74" r="5.72" fill="#7e0723"/><circle cx="94.52" cy="371.74" r="5.72" fill="#7e0723"/><circle cx="107.08" cy="371.74" r="5.72" fill="#7e0723"/><circle cx="119.64" cy="371.74" r="5.90" fill="#053061"/><circle cx="44.28" cy="384.30" r="5.04" fill="#2d76b4"/><circle cx="56.84" cy="384.30" r="5.81" fill="#09386c"/><circle cx="69.40" cy="384.30" r="5.81" fill="#09386c"/><circle cx="81.96" cy="384.30" r="5.81" fill="#09386c"/><circle cx="94.52" cy="384.30" r="5.81" fill="#09386c"/><circle cx="107.08" cy="384.30" r="5.81" fill="#09386c"/><circle cx="119.64" cy="384.30" r="5.72" fill="#7e0723"/><circle cx="132.20" cy="384.30" r="5.90" fill="#053061"/><circle cx="44.28" cy="396.86" r="5.04" fill="#2d76b4"/><circle cx="56.84" cy="396.86" r="5.81" fill="#09386c"/><circle cx="69.40" cy="396.86" r="5.81" fill="#09386c"/><circle cx="81.96" cy="396.86" r="5.81" fill="#09386c"/><circle cx="94.52" cy="396.86" r="5.81" fill="#09386c"/><circle cx="107.08" cy="396.86" r="5.81" fill="#09386c"/><circle cx="119.64" cy="396.86" r="5.72" fill="#7e0723"/><circle cx="132.20" cy="396.86" r="5.81" fill="#09386c"/><circle cx="144.76" cy="396.86" r="5.90" fill="#053061"/><circle cx="44.28" cy="409.42" r="5.04" fill="#2d76b4"/><circle cx="56.84" cy="409.42" r="5.81" fill="#09386c"/><circle cx="69.40" cy="409.42" r="5.81" fill="#09386c"/><circle cx="81.96" cy="409.42" r="5.81" fill="#09386c"/><circle cx="94.52" cy="409.42" r="5.81" fill="#09386c"/><circle cx="107.08" cy="409.42" r="5.81" fill="#09386c"/><circle cx="119.64" cy="409.42" r="5.72" fill="#7e0723"/><circle cx="132.20" cy="409.42" r="5.81" fill="#09386c"/><circle cx="144.76" cy="409.42" r="5.81" fill="#09386c"/><circle cx="157.32" cy="409.42" r="5.90" fill="#053061"/><circle cx="44.28" cy="421.98" r="5.11" fill="#bb2a34"/><circle cx="56.84" cy="421.98" r="5.72" fill="#7e0723"/><circle cx="69.40" cy="421.98" r="5.72" fill="#7e0723"/><circle cx="81.96" cy="421.98" r="5.72" fill="#7e0723"/><circle cx="94.52" cy="421.98" r="5.72" fill="#7e0723"/><circle cx="107.08" cy="421.98" r="5.72" fill="#7e0723"/><circle cx="119.64" cy="421.98" r="5.60" fill="#134b86"/><circle cx="132.20" cy="421.98" r="5.72" fill="#7e0723"/><circle cx="144.76" cy="421.98" r="5.72" fill="#7e0723"/><circle cx="157.32" cy="421.98" r="5.72" fill="#7e0723"/><circle cx="169.88" cy="421.98" r="5.90" fill="#053061"/><circle cx="44.28" cy="434.54" r="5.04" fill="#2d76b4"/><circle cx="56.84" cy="434.54" r="5.81" fill="#09386c"/><circle cx="69.40" cy="434.54" r="5.81" fill="#09386c"/><circle cx="81.96" cy="434.54" r="5.81" fill="#09386c"/><circle cx="94.52" cy="434.54" r="5.81" fill="#09386c"/><circle cx="107.08" cy="434.54" r="5.81" fill="#09386c"/><circle cx="119.64" cy="434.54" r="5.72" fill="#7e0723"/><circle cx="132.20" cy="434.54" r="5.81" fill="#09386c"/><circle cx="144.76" cy="434.54" r="5.81" fill="#09386c"/><circle cx="157.32" cy="434.54" r="5.81" fill="#09386c"/><circle cx="169.88" cy="434.54" r="5.72" fill="#7e0723"/><circle cx="182.44" cy="434.54" r="5.90" fill="#053061"/><circle cx="44.28" cy="447.10" r="5.11" fill="#bb2a34"/><circle cx="56.84" cy="447.10" r="5.72" fill="#7e0723"/><circle cx="69.40" cy="447.10" r="5.72" fill="#7e0723"/><circle cx="81.96" cy="447.10" r="5.72" fill="#7e0723"/><circle cx="94.52" cy="447.10" r="5.72" fill="#7e0723"/><circle cx="107.08" cy="447.10" r="5.72" fill="#7e0723"/><circle cx="119.64" cy="447.10" r="5.60" fill="#134b86"/><circle cx="132.20" cy="447.10" r="5.72" fill="#7e0723"/><circle cx="144.76" cy="447.10" r="5.72" fill="#7e0723"/><circle cx="157.32" cy="447.10" r="5.72" fill="#7e0723"/><circle cx="169.88" cy="447.10" r="5.78" fill="#0b3b70"/><circle cx="182.44" cy="447.10" r="5.72" fill="#7e0723"/><circle cx="195.00" cy="447.10" r="5.90" fill="#053061"/><circle cx="44.28" cy="459.66" r="5.04" fill="#2d76b4"/><circle cx="56.84" cy="459.66" r="5.81" fill="#09386c"/><circle cx="69.40" cy="459.66" r="5.81" fill="#09386c"/><circle cx="81.96" cy="459.66" r="5.81" fill="#09386c"/><circle cx="94.52" cy="459.66" r="5.81" fill="#09386c"/><circle cx="107.08" cy="459.66" r="5.81" fill="#09386c"/><circle cx="119.64" cy="459.66" r="5.72" fill="#7e0723"/><circle cx="132.20" cy="459.66" r="5.81" fill="#09386c"/><circle cx="144.76" cy="459.66" r="5.81" fill="#09386c"/><circle cx="157.32" cy="459.66" r="5.81" fill="#09386c"/><circle cx="169.88" cy="459.66" r="5.72" fill="#7e0723"/><circle cx="182.44" cy="459.66" r="5.81" fill="#09386c"/><circle cx="195.00" cy="459.66" r="5.72" fill="#7e0723"/><circle cx="207.56" cy="459.66" r="5.90" fill="#053061"/><circle cx="44.28" cy="472.22" r="5.04" fill="#2d76b4"/><circle cx="56.84" cy="472.22" r="5.81" fill="#09386c"/><circle cx="69.40" cy="472.22" r="5.81" fill="#09386c"/><circle cx="81.96" cy="472.22" r="5.81" fill="#09386c"/><circle cx="94.52" cy="472.22" r="5.81" fill="#09386c"/><circle cx="107.08" cy="472.22" r="5.81" fill="#09386c"/><circle cx="119.64" cy="472.22" r="5.72" fill="#7e0723"/><circle cx="132.20" cy="472.22" r="5.81" fill="#09386c"/><circle cx="144.76" cy="472.22" r="5.81" fill="#09386c"/><circle cx="157.32" cy="472.22" r="5.81" fill="#09386c"/><circle cx="169.88" cy="472.22" r="5.72" fill="#7e0723"/><circle cx="182.44" cy="472.22" r="5.81" fill="#09386c"/><circle cx="195.00" cy="472.22" r="5.72" fill="#7e0723"/><circle cx="207.56" cy="472.22" r="5.81" fill="#09386c"/><circle cx="220.12" cy="472.22" r="5.90" fill="#053061"/><circle cx="44.28" cy="484.78" r="5.04" fill="#2d76b4"/><circle cx="56.84" cy="484.78" r="5.81" fill="#09386c"/><circle cx="69.40" cy="484.78" r="5.81" fill="#09386c"/><circle cx="81.96" cy="484.78" r="5.81" fill="#09386c"/><circle cx="94.52" cy="484.78" r="5.81" fill="#09386c"/><circle cx="107.08" cy="484.78" r="5.81" fill="#09386c"/><circle cx="119.64" cy="484.78" r="5.72" fill="#7e0723"/><circle cx="132.20" cy="484.78" r="5.81" fill="#09386c"/><circle cx="144.76" cy="484.78" r="5.81" fill="#09386c"/><circle cx="157.32" cy="484.78" r="5.81" fill="#09386c"/><circle cx="169.88" cy="484.78" r="5.72" fill="#7e0723"/><circle cx="182.44" cy="484.78" r="5.81" fill="#09386c"/><circle cx="195.00" cy="484.78" r="5.72" fill="#7e0723"/><circle cx="207.56" cy="484.78" r="5.81" fill="#09386c"/><circle cx="220.12" cy="484.78" r="5.81" fill="#09386c"/><circle cx="232.68" cy="484.78" r="5.90" fill="#053061"/><circle cx="44.28" cy="497.34" r="5.04" fill="#2d76b4"/><circle cx="56.84" cy="497.34" r="5.81" fill="#09386c"/><circle cx="69.40" cy="497.34" r="5.81" fill="#09386c"/><circle cx="81.96" cy="497.34" r="5.81" fill="#09386c"/><circle cx="94.52" cy="497.34" r="5.81" fill="#09386c"/><circle cx="107.08" cy="497.34" r="5.81" fill="#09386c"/><circle cx="119.64" cy="497.34" r="5.72" fill="#7e0723"/><circle cx="132.20" cy="497.34" r="5.81" fill="#09386c"/><circle cx="144.76" cy="497.34" r="5.81" fill="#09386c"/><circle cx="157.32" cy="497.34" r="5.81" fill="#09386c"/><circle cx="169.88" cy="497.34" r="5.72" fill="#7e0723"/><circle cx="182.44" cy="497.34" r="5.81" fill="#09386c"/><circle cx="195.00" cy="497.34" r="5.72" fill="#7e0723"/><circle cx="207.56" cy="497.34" r="5.81" fill="#09386c"/><circle cx="220.12" cy="497.34" r="5.81" fill="#09386c"/><circle cx="232.68" cy="497.34" r="5.81" fill="#09386c"/><circle cx="245.24" cy="497.34" r="5.90" fill="#053061"/><text class="r" transform="translate(34.20 298.38) scale(1.015 1)" font-size="6.9" text-anchor="end" fill="#e21a22" letter-spacing="-0.25">GY</text><text class="r" transform="translate(34.20 310.94) scale(1.015 1)" font-size="6.9" text-anchor="end" fill="#e21a22" letter-spacing="-0.25">NDVI</text><text class="r" transform="translate(34.20 323.50) scale(1.015 1)" font-size="6.9" text-anchor="end" fill="#e21a22" letter-spacing="-0.25">NDRE</text><text class="r" transform="translate(34.20 336.06) scale(1.015 1)" font-size="6.9" text-anchor="end" fill="#e21a22" letter-spacing="-0.25">BNDVI</text><text class="r" transform="translate(34.20 348.62) scale(1.015 1)" font-size="6.9" text-anchor="end" fill="#e21a22" letter-spacing="-0.25">GNDVI</text><text class="r" transform="translate(34.20 361.18) scale(1.015 1)" font-size="6.9" text-anchor="end" fill="#e21a22" letter-spacing="-0.25">BWDRVI</text><text class="r" transform="translate(34.20 373.74) scale(1.015 1)" font-size="6.9" text-anchor="end" fill="#e21a22" letter-spacing="-0.25">CI</text><text class="r" transform="translate(34.20 386.30) scale(1.015 1)" font-size="6.9" text-anchor="end" fill="#e21a22" letter-spacing="-0.25">TVI</text><text class="r" transform="translate(34.20 398.86) scale(1.015 1)" font-size="6.9" text-anchor="end" fill="#e21a22" letter-spacing="-0.25">WDRVI</text><text class="r" transform="translate(34.20 411.42) scale(1.015 1)" font-size="6.9" text-anchor="end" fill="#e21a22" letter-spacing="-0.25">GRVI</text><text class="r" transform="translate(34.20 423.98) scale(1.015 1)" font-size="6.9" text-anchor="end" fill="#e21a22" letter-spacing="-0.25">RGR</text><text class="r" transform="translate(34.20 436.54) scale(1.015 1)" font-size="6.9" text-anchor="end" fill="#e21a22" letter-spacing="-0.25">RRI1</text><text class="r" transform="translate(34.20 449.10) scale(1.015 1)" font-size="6.9" text-anchor="end" fill="#e21a22" letter-spacing="-0.25">RRI2</text><text class="r" transform="translate(34.20 461.66) scale(1.015 1)" font-size="6.9" text-anchor="end" fill="#e21a22" letter-spacing="-0.25">SARVI</text><text class="r" transform="translate(34.20 474.22) scale(1.015 1)" font-size="6.9" text-anchor="end" fill="#e21a22" letter-spacing="-0.25">ATSAVI</text><text class="r" transform="translate(34.20 486.78) scale(1.015 1)" font-size="6.9" text-anchor="end" fill="#e21a22" letter-spacing="-0.25">CIg</text><text class="r" transform="translate(34.20 499.34) scale(1.015 1)" font-size="6.9" text-anchor="end" fill="#e21a22" letter-spacing="-0.25">CIre</text><text class="r" transform="translate(46.68 287.90) rotate(-90) scale(1.02 1)" font-size="6.9" fill="#e21a22" letter-spacing="-0.25">GY</text><text class="r" transform="translate(59.24 300.46) rotate(-90) scale(1.02 1)" font-size="6.9" fill="#e21a22" letter-spacing="-0.25">NDVI</text><text class="r" transform="translate(71.80 313.02) rotate(-90) scale(1.02 1)" font-size="6.9" fill="#e21a22" letter-spacing="-0.25">NDRE</text><text class="r" transform="translate(84.36 325.58) rotate(-90) scale(1.02 1)" font-size="6.9" fill="#e21a22" letter-spacing="-0.25">BNDVI</text><text class="r" transform="translate(96.92 338.14) rotate(-90) scale(1.02 1)" font-size="6.9" fill="#e21a22" letter-spacing="-0.25">GNDVI</text><text class="r" transform="translate(109.48 350.70) rotate(-90) scale(1.02 1)" font-size="6.9" fill="#e21a22" letter-spacing="-0.25">BWDRVI</text><text class="r" transform="translate(122.04 363.26) rotate(-90) scale(1.02 1)" font-size="6.9" fill="#e21a22" letter-spacing="-0.25">CI</text><text class="r" transform="translate(134.60 375.82) rotate(-90) scale(1.02 1)" font-size="6.9" fill="#e21a22" letter-spacing="-0.25">TVI</text><text class="r" transform="translate(147.16 388.38) rotate(-90) scale(1.02 1)" font-size="6.9" fill="#e21a22" letter-spacing="-0.25">WDRVI</text><text class="r" transform="translate(159.72 400.94) rotate(-90) scale(1.02 1)" font-size="6.9" fill="#e21a22" letter-spacing="-0.25">GRVI</text><text class="r" transform="translate(172.28 413.50) rotate(-90) scale(1.02 1)" font-size="6.9" fill="#e21a22" letter-spacing="-0.25">RGR</text><text class="r" transform="translate(184.84 426.06) rotate(-90) scale(1.02 1)" font-size="6.9" fill="#e21a22" letter-spacing="-0.25">RRI1</text><text class="r" transform="translate(197.40 438.62) rotate(-90) scale(1.02 1)" font-size="6.9" fill="#e21a22" letter-spacing="-0.25">RRI2</text><text class="r" transform="translate(209.96 451.18) rotate(-90) scale(1.02 1)" font-size="6.9" fill="#e21a22" letter-spacing="-0.25">SARVI</text><text class="r" transform="translate(222.52 463.74) rotate(-90) scale(1.02 1)" font-size="6.9" fill="#e21a22" letter-spacing="-0.25">ATSAVI</text><text class="r" transform="translate(235.08 476.30) rotate(-90) scale(1.02 1)" font-size="6.9" fill="#e21a22" letter-spacing="-0.25">CIg</text><text class="r" transform="translate(247.64 488.86) rotate(-90) scale(1.02 1)" font-size="6.9" fill="#e21a22" letter-spacing="-0.25">CIre</text><rect x="38.00" y="508.00" width="213.52" height="7.8" fill="url(#cb)" stroke="#222" stroke-width="0.5"/><line x1="38.00" x2="38.00" y1="515.80" y2="517.30" stroke="#222" stroke-width="0.5"/><text class="k" x="36.80" y="527.30" font-size="9.7" letter-spacing="-0.2" text-anchor="middle" fill="#111"><tspan font-size="10.6">−</tspan><tspan dx="0.9">1</tspan></text><line x1="59.35" x2="59.35" y1="515.80" y2="517.30" stroke="#222" stroke-width="0.5"/><text class="k" x="58.15" y="527.30" font-size="9.7" letter-spacing="-0.2" text-anchor="middle" fill="#111"><tspan font-size="10.6">−</tspan><tspan dx="0.9">0.8</tspan></text><line x1="80.70" x2="80.70" y1="515.80" y2="517.30" stroke="#222" stroke-width="0.5"/><text class="k" x="79.50" y="527.30" font-size="9.7" letter-spacing="-0.2" text-anchor="middle" fill="#111"><tspan font-size="10.6">−</tspan><tspan dx="0.9">0.6</tspan></text><line x1="102.06" x2="102.06" y1="515.80" y2="517.30" stroke="#222" stroke-width="0.5"/><text class="k" x="100.86" y="527.30" font-size="9.7" letter-spacing="-0.2" text-anchor="middle" fill="#111"><tspan font-size="10.6">−</tspan><tspan dx="0.9">0.4</tspan></text><line x1="123.41" x2="123.41" y1="515.80" y2="517.30" stroke="#222" stroke-width="0.5"/><text class="k" x="122.21" y="527.30" font-size="9.7" letter-spacing="-0.2" text-anchor="middle" fill="#111"><tspan font-size="10.6">−</tspan><tspan dx="0.9">0.2</tspan></text><line x1="144.76" x2="144.76" y1="515.80" y2="517.30" stroke="#222" stroke-width="0.5"/><text class="k" x="144.46" y="527.30" font-size="9.7" letter-spacing="-0.2" text-anchor="middle" fill="#111">0</text><line x1="166.11" x2="166.11" y1="515.80" y2="517.30" stroke="#222" stroke-width="0.5"/><text class="k" x="165.81" y="527.30" font-size="9.7" letter-spacing="-0.2" text-anchor="middle" fill="#111">0.2</text><line x1="187.46" x2="187.46" y1="515.80" y2="517.30" stroke="#222" stroke-width="0.5"/><text class="k" x="187.16" y="527.30" font-size="9.7" letter-spacing="-0.2" text-anchor="middle" fill="#111">0.4</text><line x1="208.82" x2="208.82" y1="515.80" y2="517.30" stroke="#222" stroke-width="0.5"/><text class="k" x="208.52" y="527.30" font-size="9.7" letter-spacing="-0.2" text-anchor="middle" fill="#111">0.6</text><line x1="230.17" x2="230.17" y1="515.80" y2="517.30" stroke="#222" stroke-width="0.5"/><text class="k" x="229.87" y="527.30" font-size="9.7" letter-spacing="-0.2" text-anchor="middle" fill="#111">0.8</text><line x1="251.52" x2="251.52" y1="515.80" y2="517.30" stroke="#222" stroke-width="0.5"/><text class="k" x="251.22" y="527.30" font-size="9.7" letter-spacing="-0.2" text-anchor="middle" fill="#111">1</text><text x="144.76" y="541.00" font-size="15" text-anchor="middle" fill="#2a2a2a" style="font-family:'Liberation Sans',sans-serif">(c)</text></g>
</svg></body></html>
